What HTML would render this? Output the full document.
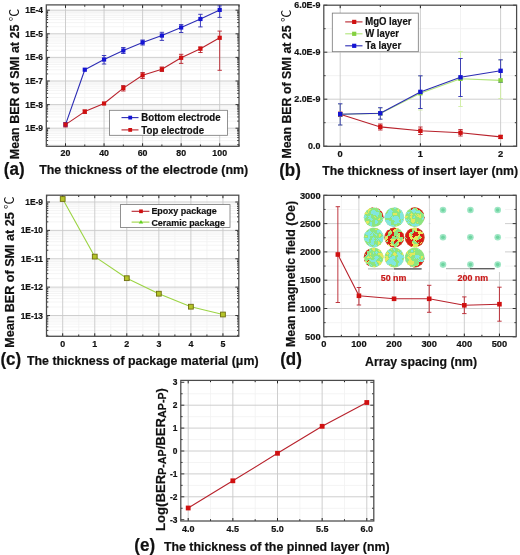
<!DOCTYPE html>
<html><head><meta charset="utf-8"><style>
html,body{margin:0;padding:0;background:#fff;width:520px;height:555px;overflow:hidden}
svg{display:block}
text{font-family:"Liberation Sans","Noto Sans CJK SC",sans-serif;font-weight:bold;stroke-width:0.2px}
</style></head><body>
<svg width="520" height="555" viewBox="0 0 520 555">
<rect width="520" height="555" fill="#fff"/>
<line x1="84.78" y1="4.9" x2="84.78" y2="146.3" stroke="#f1f1f1" stroke-width="0.8"/>
<line x1="123.33" y1="4.9" x2="123.33" y2="146.3" stroke="#f1f1f1" stroke-width="0.8"/>
<line x1="161.88" y1="4.9" x2="161.88" y2="146.3" stroke="#f1f1f1" stroke-width="0.8"/>
<line x1="200.43" y1="4.9" x2="200.43" y2="146.3" stroke="#f1f1f1" stroke-width="0.8"/>
<line x1="238.97" y1="4.9" x2="238.97" y2="146.3" stroke="#f1f1f1" stroke-width="0.8"/>
<line x1="46.3" y1="144.7" x2="239" y2="144.7" stroke="#f1f1f1" stroke-width="0.8"/>
<line x1="46.3" y1="140.54" x2="239" y2="140.54" stroke="#f1f1f1" stroke-width="0.8"/>
<line x1="46.3" y1="137.59" x2="239" y2="137.59" stroke="#f1f1f1" stroke-width="0.8"/>
<line x1="46.3" y1="135.3" x2="239" y2="135.3" stroke="#f1f1f1" stroke-width="0.8"/>
<line x1="46.3" y1="133.44" x2="239" y2="133.44" stroke="#f1f1f1" stroke-width="0.8"/>
<line x1="46.3" y1="131.86" x2="239" y2="131.86" stroke="#f1f1f1" stroke-width="0.8"/>
<line x1="46.3" y1="130.49" x2="239" y2="130.49" stroke="#f1f1f1" stroke-width="0.8"/>
<line x1="46.3" y1="129.28" x2="239" y2="129.28" stroke="#f1f1f1" stroke-width="0.8"/>
<line x1="46.3" y1="121.1" x2="239" y2="121.1" stroke="#f1f1f1" stroke-width="0.8"/>
<line x1="46.3" y1="116.94" x2="239" y2="116.94" stroke="#f1f1f1" stroke-width="0.8"/>
<line x1="46.3" y1="113.99" x2="239" y2="113.99" stroke="#f1f1f1" stroke-width="0.8"/>
<line x1="46.3" y1="111.7" x2="239" y2="111.7" stroke="#f1f1f1" stroke-width="0.8"/>
<line x1="46.3" y1="109.84" x2="239" y2="109.84" stroke="#f1f1f1" stroke-width="0.8"/>
<line x1="46.3" y1="108.26" x2="239" y2="108.26" stroke="#f1f1f1" stroke-width="0.8"/>
<line x1="46.3" y1="106.89" x2="239" y2="106.89" stroke="#f1f1f1" stroke-width="0.8"/>
<line x1="46.3" y1="105.68" x2="239" y2="105.68" stroke="#f1f1f1" stroke-width="0.8"/>
<line x1="46.3" y1="97.5" x2="239" y2="97.5" stroke="#f1f1f1" stroke-width="0.8"/>
<line x1="46.3" y1="93.34" x2="239" y2="93.34" stroke="#f1f1f1" stroke-width="0.8"/>
<line x1="46.3" y1="90.39" x2="239" y2="90.39" stroke="#f1f1f1" stroke-width="0.8"/>
<line x1="46.3" y1="88.1" x2="239" y2="88.1" stroke="#f1f1f1" stroke-width="0.8"/>
<line x1="46.3" y1="86.24" x2="239" y2="86.24" stroke="#f1f1f1" stroke-width="0.8"/>
<line x1="46.3" y1="84.66" x2="239" y2="84.66" stroke="#f1f1f1" stroke-width="0.8"/>
<line x1="46.3" y1="83.29" x2="239" y2="83.29" stroke="#f1f1f1" stroke-width="0.8"/>
<line x1="46.3" y1="82.08" x2="239" y2="82.08" stroke="#f1f1f1" stroke-width="0.8"/>
<line x1="46.3" y1="73.9" x2="239" y2="73.9" stroke="#f1f1f1" stroke-width="0.8"/>
<line x1="46.3" y1="69.74" x2="239" y2="69.74" stroke="#f1f1f1" stroke-width="0.8"/>
<line x1="46.3" y1="66.79" x2="239" y2="66.79" stroke="#f1f1f1" stroke-width="0.8"/>
<line x1="46.3" y1="64.5" x2="239" y2="64.5" stroke="#f1f1f1" stroke-width="0.8"/>
<line x1="46.3" y1="62.64" x2="239" y2="62.64" stroke="#f1f1f1" stroke-width="0.8"/>
<line x1="46.3" y1="61.06" x2="239" y2="61.06" stroke="#f1f1f1" stroke-width="0.8"/>
<line x1="46.3" y1="59.69" x2="239" y2="59.69" stroke="#f1f1f1" stroke-width="0.8"/>
<line x1="46.3" y1="58.48" x2="239" y2="58.48" stroke="#f1f1f1" stroke-width="0.8"/>
<line x1="46.3" y1="50.3" x2="239" y2="50.3" stroke="#f1f1f1" stroke-width="0.8"/>
<line x1="46.3" y1="46.14" x2="239" y2="46.14" stroke="#f1f1f1" stroke-width="0.8"/>
<line x1="46.3" y1="43.19" x2="239" y2="43.19" stroke="#f1f1f1" stroke-width="0.8"/>
<line x1="46.3" y1="40.9" x2="239" y2="40.9" stroke="#f1f1f1" stroke-width="0.8"/>
<line x1="46.3" y1="39.04" x2="239" y2="39.04" stroke="#f1f1f1" stroke-width="0.8"/>
<line x1="46.3" y1="37.46" x2="239" y2="37.46" stroke="#f1f1f1" stroke-width="0.8"/>
<line x1="46.3" y1="36.09" x2="239" y2="36.09" stroke="#f1f1f1" stroke-width="0.8"/>
<line x1="46.3" y1="34.88" x2="239" y2="34.88" stroke="#f1f1f1" stroke-width="0.8"/>
<line x1="46.3" y1="26.7" x2="239" y2="26.7" stroke="#f1f1f1" stroke-width="0.8"/>
<line x1="46.3" y1="22.54" x2="239" y2="22.54" stroke="#f1f1f1" stroke-width="0.8"/>
<line x1="46.3" y1="19.59" x2="239" y2="19.59" stroke="#f1f1f1" stroke-width="0.8"/>
<line x1="46.3" y1="17.3" x2="239" y2="17.3" stroke="#f1f1f1" stroke-width="0.8"/>
<line x1="46.3" y1="15.44" x2="239" y2="15.44" stroke="#f1f1f1" stroke-width="0.8"/>
<line x1="46.3" y1="13.86" x2="239" y2="13.86" stroke="#f1f1f1" stroke-width="0.8"/>
<line x1="46.3" y1="12.49" x2="239" y2="12.49" stroke="#f1f1f1" stroke-width="0.8"/>
<line x1="46.3" y1="11.28" x2="239" y2="11.28" stroke="#f1f1f1" stroke-width="0.8"/>
<line x1="65.5" y1="4.9" x2="65.5" y2="146.3" stroke="#c8c8c8" stroke-width="0.9"/>
<line x1="104.05" y1="4.9" x2="104.05" y2="146.3" stroke="#c8c8c8" stroke-width="0.9"/>
<line x1="142.6" y1="4.9" x2="142.6" y2="146.3" stroke="#c8c8c8" stroke-width="0.9"/>
<line x1="181.15" y1="4.9" x2="181.15" y2="146.3" stroke="#c8c8c8" stroke-width="0.9"/>
<line x1="219.7" y1="4.9" x2="219.7" y2="146.3" stroke="#c8c8c8" stroke-width="0.9"/>
<line x1="46.3" y1="128.2" x2="239" y2="128.2" stroke="#c8c8c8" stroke-width="0.9"/>
<line x1="46.3" y1="104.6" x2="239" y2="104.6" stroke="#c8c8c8" stroke-width="0.9"/>
<line x1="46.3" y1="81" x2="239" y2="81" stroke="#c8c8c8" stroke-width="0.9"/>
<line x1="46.3" y1="57.4" x2="239" y2="57.4" stroke="#c8c8c8" stroke-width="0.9"/>
<line x1="46.3" y1="33.8" x2="239" y2="33.8" stroke="#c8c8c8" stroke-width="0.9"/>
<line x1="46.3" y1="10.2" x2="239" y2="10.2" stroke="#c8c8c8" stroke-width="0.9"/>
<line x1="65.5" y1="146.3" x2="65.5" y2="143.3" stroke="#222" stroke-width="1"/>
<line x1="65.5" y1="4.9" x2="65.5" y2="7.9" stroke="#222" stroke-width="1"/>
<line x1="84.78" y1="146.3" x2="84.78" y2="144.5" stroke="#222" stroke-width="1"/>
<line x1="84.78" y1="4.9" x2="84.78" y2="6.7" stroke="#222" stroke-width="1"/>
<line x1="104.05" y1="146.3" x2="104.05" y2="143.3" stroke="#222" stroke-width="1"/>
<line x1="104.05" y1="4.9" x2="104.05" y2="7.9" stroke="#222" stroke-width="1"/>
<line x1="123.33" y1="146.3" x2="123.33" y2="144.5" stroke="#222" stroke-width="1"/>
<line x1="123.33" y1="4.9" x2="123.33" y2="6.7" stroke="#222" stroke-width="1"/>
<line x1="142.6" y1="146.3" x2="142.6" y2="143.3" stroke="#222" stroke-width="1"/>
<line x1="142.6" y1="4.9" x2="142.6" y2="7.9" stroke="#222" stroke-width="1"/>
<line x1="161.88" y1="146.3" x2="161.88" y2="144.5" stroke="#222" stroke-width="1"/>
<line x1="161.88" y1="4.9" x2="161.88" y2="6.7" stroke="#222" stroke-width="1"/>
<line x1="181.15" y1="146.3" x2="181.15" y2="143.3" stroke="#222" stroke-width="1"/>
<line x1="181.15" y1="4.9" x2="181.15" y2="7.9" stroke="#222" stroke-width="1"/>
<line x1="200.43" y1="146.3" x2="200.43" y2="144.5" stroke="#222" stroke-width="1"/>
<line x1="200.43" y1="4.9" x2="200.43" y2="6.7" stroke="#222" stroke-width="1"/>
<line x1="219.7" y1="146.3" x2="219.7" y2="143.3" stroke="#222" stroke-width="1"/>
<line x1="219.7" y1="4.9" x2="219.7" y2="7.9" stroke="#222" stroke-width="1"/>
<line x1="238.97" y1="146.3" x2="238.97" y2="144.5" stroke="#222" stroke-width="1"/>
<line x1="238.97" y1="4.9" x2="238.97" y2="6.7" stroke="#222" stroke-width="1"/>
<line x1="46.3" y1="144.7" x2="48.1" y2="144.7" stroke="#222" stroke-width="0.9"/>
<line x1="239" y1="144.7" x2="237.2" y2="144.7" stroke="#222" stroke-width="0.9"/>
<line x1="46.3" y1="140.54" x2="48.1" y2="140.54" stroke="#222" stroke-width="0.9"/>
<line x1="239" y1="140.54" x2="237.2" y2="140.54" stroke="#222" stroke-width="0.9"/>
<line x1="46.3" y1="137.59" x2="48.1" y2="137.59" stroke="#222" stroke-width="0.9"/>
<line x1="239" y1="137.59" x2="237.2" y2="137.59" stroke="#222" stroke-width="0.9"/>
<line x1="46.3" y1="135.3" x2="48.1" y2="135.3" stroke="#222" stroke-width="0.9"/>
<line x1="239" y1="135.3" x2="237.2" y2="135.3" stroke="#222" stroke-width="0.9"/>
<line x1="46.3" y1="133.44" x2="48.1" y2="133.44" stroke="#222" stroke-width="0.9"/>
<line x1="239" y1="133.44" x2="237.2" y2="133.44" stroke="#222" stroke-width="0.9"/>
<line x1="46.3" y1="131.86" x2="48.1" y2="131.86" stroke="#222" stroke-width="0.9"/>
<line x1="239" y1="131.86" x2="237.2" y2="131.86" stroke="#222" stroke-width="0.9"/>
<line x1="46.3" y1="130.49" x2="48.1" y2="130.49" stroke="#222" stroke-width="0.9"/>
<line x1="239" y1="130.49" x2="237.2" y2="130.49" stroke="#222" stroke-width="0.9"/>
<line x1="46.3" y1="129.28" x2="48.1" y2="129.28" stroke="#222" stroke-width="0.9"/>
<line x1="239" y1="129.28" x2="237.2" y2="129.28" stroke="#222" stroke-width="0.9"/>
<line x1="46.3" y1="128.2" x2="49.8" y2="128.2" stroke="#222" stroke-width="0.9"/>
<line x1="239" y1="128.2" x2="235.5" y2="128.2" stroke="#222" stroke-width="0.9"/>
<line x1="46.3" y1="121.1" x2="48.1" y2="121.1" stroke="#222" stroke-width="0.9"/>
<line x1="239" y1="121.1" x2="237.2" y2="121.1" stroke="#222" stroke-width="0.9"/>
<line x1="46.3" y1="116.94" x2="48.1" y2="116.94" stroke="#222" stroke-width="0.9"/>
<line x1="239" y1="116.94" x2="237.2" y2="116.94" stroke="#222" stroke-width="0.9"/>
<line x1="46.3" y1="113.99" x2="48.1" y2="113.99" stroke="#222" stroke-width="0.9"/>
<line x1="239" y1="113.99" x2="237.2" y2="113.99" stroke="#222" stroke-width="0.9"/>
<line x1="46.3" y1="111.7" x2="48.1" y2="111.7" stroke="#222" stroke-width="0.9"/>
<line x1="239" y1="111.7" x2="237.2" y2="111.7" stroke="#222" stroke-width="0.9"/>
<line x1="46.3" y1="109.84" x2="48.1" y2="109.84" stroke="#222" stroke-width="0.9"/>
<line x1="239" y1="109.84" x2="237.2" y2="109.84" stroke="#222" stroke-width="0.9"/>
<line x1="46.3" y1="108.26" x2="48.1" y2="108.26" stroke="#222" stroke-width="0.9"/>
<line x1="239" y1="108.26" x2="237.2" y2="108.26" stroke="#222" stroke-width="0.9"/>
<line x1="46.3" y1="106.89" x2="48.1" y2="106.89" stroke="#222" stroke-width="0.9"/>
<line x1="239" y1="106.89" x2="237.2" y2="106.89" stroke="#222" stroke-width="0.9"/>
<line x1="46.3" y1="105.68" x2="48.1" y2="105.68" stroke="#222" stroke-width="0.9"/>
<line x1="239" y1="105.68" x2="237.2" y2="105.68" stroke="#222" stroke-width="0.9"/>
<line x1="46.3" y1="104.6" x2="49.8" y2="104.6" stroke="#222" stroke-width="0.9"/>
<line x1="239" y1="104.6" x2="235.5" y2="104.6" stroke="#222" stroke-width="0.9"/>
<line x1="46.3" y1="97.5" x2="48.1" y2="97.5" stroke="#222" stroke-width="0.9"/>
<line x1="239" y1="97.5" x2="237.2" y2="97.5" stroke="#222" stroke-width="0.9"/>
<line x1="46.3" y1="93.34" x2="48.1" y2="93.34" stroke="#222" stroke-width="0.9"/>
<line x1="239" y1="93.34" x2="237.2" y2="93.34" stroke="#222" stroke-width="0.9"/>
<line x1="46.3" y1="90.39" x2="48.1" y2="90.39" stroke="#222" stroke-width="0.9"/>
<line x1="239" y1="90.39" x2="237.2" y2="90.39" stroke="#222" stroke-width="0.9"/>
<line x1="46.3" y1="88.1" x2="48.1" y2="88.1" stroke="#222" stroke-width="0.9"/>
<line x1="239" y1="88.1" x2="237.2" y2="88.1" stroke="#222" stroke-width="0.9"/>
<line x1="46.3" y1="86.24" x2="48.1" y2="86.24" stroke="#222" stroke-width="0.9"/>
<line x1="239" y1="86.24" x2="237.2" y2="86.24" stroke="#222" stroke-width="0.9"/>
<line x1="46.3" y1="84.66" x2="48.1" y2="84.66" stroke="#222" stroke-width="0.9"/>
<line x1="239" y1="84.66" x2="237.2" y2="84.66" stroke="#222" stroke-width="0.9"/>
<line x1="46.3" y1="83.29" x2="48.1" y2="83.29" stroke="#222" stroke-width="0.9"/>
<line x1="239" y1="83.29" x2="237.2" y2="83.29" stroke="#222" stroke-width="0.9"/>
<line x1="46.3" y1="82.08" x2="48.1" y2="82.08" stroke="#222" stroke-width="0.9"/>
<line x1="239" y1="82.08" x2="237.2" y2="82.08" stroke="#222" stroke-width="0.9"/>
<line x1="46.3" y1="81" x2="49.8" y2="81" stroke="#222" stroke-width="0.9"/>
<line x1="239" y1="81" x2="235.5" y2="81" stroke="#222" stroke-width="0.9"/>
<line x1="46.3" y1="73.9" x2="48.1" y2="73.9" stroke="#222" stroke-width="0.9"/>
<line x1="239" y1="73.9" x2="237.2" y2="73.9" stroke="#222" stroke-width="0.9"/>
<line x1="46.3" y1="69.74" x2="48.1" y2="69.74" stroke="#222" stroke-width="0.9"/>
<line x1="239" y1="69.74" x2="237.2" y2="69.74" stroke="#222" stroke-width="0.9"/>
<line x1="46.3" y1="66.79" x2="48.1" y2="66.79" stroke="#222" stroke-width="0.9"/>
<line x1="239" y1="66.79" x2="237.2" y2="66.79" stroke="#222" stroke-width="0.9"/>
<line x1="46.3" y1="64.5" x2="48.1" y2="64.5" stroke="#222" stroke-width="0.9"/>
<line x1="239" y1="64.5" x2="237.2" y2="64.5" stroke="#222" stroke-width="0.9"/>
<line x1="46.3" y1="62.64" x2="48.1" y2="62.64" stroke="#222" stroke-width="0.9"/>
<line x1="239" y1="62.64" x2="237.2" y2="62.64" stroke="#222" stroke-width="0.9"/>
<line x1="46.3" y1="61.06" x2="48.1" y2="61.06" stroke="#222" stroke-width="0.9"/>
<line x1="239" y1="61.06" x2="237.2" y2="61.06" stroke="#222" stroke-width="0.9"/>
<line x1="46.3" y1="59.69" x2="48.1" y2="59.69" stroke="#222" stroke-width="0.9"/>
<line x1="239" y1="59.69" x2="237.2" y2="59.69" stroke="#222" stroke-width="0.9"/>
<line x1="46.3" y1="58.48" x2="48.1" y2="58.48" stroke="#222" stroke-width="0.9"/>
<line x1="239" y1="58.48" x2="237.2" y2="58.48" stroke="#222" stroke-width="0.9"/>
<line x1="46.3" y1="57.4" x2="49.8" y2="57.4" stroke="#222" stroke-width="0.9"/>
<line x1="239" y1="57.4" x2="235.5" y2="57.4" stroke="#222" stroke-width="0.9"/>
<line x1="46.3" y1="50.3" x2="48.1" y2="50.3" stroke="#222" stroke-width="0.9"/>
<line x1="239" y1="50.3" x2="237.2" y2="50.3" stroke="#222" stroke-width="0.9"/>
<line x1="46.3" y1="46.14" x2="48.1" y2="46.14" stroke="#222" stroke-width="0.9"/>
<line x1="239" y1="46.14" x2="237.2" y2="46.14" stroke="#222" stroke-width="0.9"/>
<line x1="46.3" y1="43.19" x2="48.1" y2="43.19" stroke="#222" stroke-width="0.9"/>
<line x1="239" y1="43.19" x2="237.2" y2="43.19" stroke="#222" stroke-width="0.9"/>
<line x1="46.3" y1="40.9" x2="48.1" y2="40.9" stroke="#222" stroke-width="0.9"/>
<line x1="239" y1="40.9" x2="237.2" y2="40.9" stroke="#222" stroke-width="0.9"/>
<line x1="46.3" y1="39.04" x2="48.1" y2="39.04" stroke="#222" stroke-width="0.9"/>
<line x1="239" y1="39.04" x2="237.2" y2="39.04" stroke="#222" stroke-width="0.9"/>
<line x1="46.3" y1="37.46" x2="48.1" y2="37.46" stroke="#222" stroke-width="0.9"/>
<line x1="239" y1="37.46" x2="237.2" y2="37.46" stroke="#222" stroke-width="0.9"/>
<line x1="46.3" y1="36.09" x2="48.1" y2="36.09" stroke="#222" stroke-width="0.9"/>
<line x1="239" y1="36.09" x2="237.2" y2="36.09" stroke="#222" stroke-width="0.9"/>
<line x1="46.3" y1="34.88" x2="48.1" y2="34.88" stroke="#222" stroke-width="0.9"/>
<line x1="239" y1="34.88" x2="237.2" y2="34.88" stroke="#222" stroke-width="0.9"/>
<line x1="46.3" y1="33.8" x2="49.8" y2="33.8" stroke="#222" stroke-width="0.9"/>
<line x1="239" y1="33.8" x2="235.5" y2="33.8" stroke="#222" stroke-width="0.9"/>
<line x1="46.3" y1="26.7" x2="48.1" y2="26.7" stroke="#222" stroke-width="0.9"/>
<line x1="239" y1="26.7" x2="237.2" y2="26.7" stroke="#222" stroke-width="0.9"/>
<line x1="46.3" y1="22.54" x2="48.1" y2="22.54" stroke="#222" stroke-width="0.9"/>
<line x1="239" y1="22.54" x2="237.2" y2="22.54" stroke="#222" stroke-width="0.9"/>
<line x1="46.3" y1="19.59" x2="48.1" y2="19.59" stroke="#222" stroke-width="0.9"/>
<line x1="239" y1="19.59" x2="237.2" y2="19.59" stroke="#222" stroke-width="0.9"/>
<line x1="46.3" y1="17.3" x2="48.1" y2="17.3" stroke="#222" stroke-width="0.9"/>
<line x1="239" y1="17.3" x2="237.2" y2="17.3" stroke="#222" stroke-width="0.9"/>
<line x1="46.3" y1="15.44" x2="48.1" y2="15.44" stroke="#222" stroke-width="0.9"/>
<line x1="239" y1="15.44" x2="237.2" y2="15.44" stroke="#222" stroke-width="0.9"/>
<line x1="46.3" y1="13.86" x2="48.1" y2="13.86" stroke="#222" stroke-width="0.9"/>
<line x1="239" y1="13.86" x2="237.2" y2="13.86" stroke="#222" stroke-width="0.9"/>
<line x1="46.3" y1="12.49" x2="48.1" y2="12.49" stroke="#222" stroke-width="0.9"/>
<line x1="239" y1="12.49" x2="237.2" y2="12.49" stroke="#222" stroke-width="0.9"/>
<line x1="46.3" y1="11.28" x2="48.1" y2="11.28" stroke="#222" stroke-width="0.9"/>
<line x1="239" y1="11.28" x2="237.2" y2="11.28" stroke="#222" stroke-width="0.9"/>
<line x1="46.3" y1="10.2" x2="49.8" y2="10.2" stroke="#222" stroke-width="0.9"/>
<line x1="239" y1="10.2" x2="235.5" y2="10.2" stroke="#222" stroke-width="0.9"/>
<rect x="46.3" y="4.9" width="192.7" height="141.4" fill="none" stroke="#4a4a4a" stroke-width="1.25"/>
<text x="43" y="131.2" font-size="8.4" text-anchor="end" fill="#111" stroke="#111">1E-9</text>
<text x="43" y="107.6" font-size="8.4" text-anchor="end" fill="#111" stroke="#111">1E-8</text>
<text x="43" y="84" font-size="8.4" text-anchor="end" fill="#111" stroke="#111">1E-7</text>
<text x="43" y="60.4" font-size="8.4" text-anchor="end" fill="#111" stroke="#111">1E-6</text>
<text x="43" y="36.8" font-size="8.4" text-anchor="end" fill="#111" stroke="#111">1E-5</text>
<text x="43" y="13.2" font-size="8.4" text-anchor="end" fill="#111" stroke="#111">1E-4</text>
<text x="65.5" y="156.2" font-size="8.8" text-anchor="middle" fill="#111" stroke="#111">20</text>
<text x="104.05" y="156.2" font-size="8.8" text-anchor="middle" fill="#111" stroke="#111">40</text>
<text x="142.6" y="156.2" font-size="8.8" text-anchor="middle" fill="#111" stroke="#111">60</text>
<text x="181.15" y="156.2" font-size="8.8" text-anchor="middle" fill="#111" stroke="#111">80</text>
<text x="219.7" y="156.2" font-size="8.8" text-anchor="middle" fill="#111" stroke="#111">100</text>
<text x="0" y="0" font-size="17" fill="#111" stroke="#111" transform="translate(3.8 175.2) scale(1 1.13)">(a)</text>
<text x="39.2" y="173.8" font-size="12.3" fill="#111" stroke="#111" text-anchor="start" textLength="209" lengthAdjust="spacingAndGlyphs">The thickness of the electrode (nm)</text>
<text x="19" y="159.2" font-size="12.3" fill="#111" stroke="#111" text-anchor="start" textLength="150.5" lengthAdjust="spacingAndGlyphs" transform="rotate(-90 19 159.2)">Mean BER of SMI at 25 <tspan font-weight="normal" stroke-width="0">℃</tspan></text>
<line x1="123.33" y1="85.5" x2="123.33" y2="91" stroke="#b8222c" stroke-width="0.9"/>
<line x1="121.12" y1="85.5" x2="125.53" y2="85.5" stroke="#b8222c" stroke-width="0.9"/>
<line x1="121.12" y1="91" x2="125.53" y2="91" stroke="#b8222c" stroke-width="0.9"/>
<line x1="142.6" y1="72.5" x2="142.6" y2="78.5" stroke="#b8222c" stroke-width="0.9"/>
<line x1="140.4" y1="72.5" x2="144.8" y2="72.5" stroke="#b8222c" stroke-width="0.9"/>
<line x1="140.4" y1="78.5" x2="144.8" y2="78.5" stroke="#b8222c" stroke-width="0.9"/>
<line x1="161.88" y1="67" x2="161.88" y2="71.5" stroke="#b8222c" stroke-width="0.9"/>
<line x1="159.68" y1="67" x2="164.07" y2="67" stroke="#b8222c" stroke-width="0.9"/>
<line x1="159.68" y1="71.5" x2="164.07" y2="71.5" stroke="#b8222c" stroke-width="0.9"/>
<line x1="181.15" y1="54.3" x2="181.15" y2="63.4" stroke="#b8222c" stroke-width="0.9"/>
<line x1="178.95" y1="54.3" x2="183.35" y2="54.3" stroke="#b8222c" stroke-width="0.9"/>
<line x1="178.95" y1="63.4" x2="183.35" y2="63.4" stroke="#b8222c" stroke-width="0.9"/>
<line x1="200.43" y1="47" x2="200.43" y2="52.5" stroke="#b8222c" stroke-width="0.9"/>
<line x1="198.23" y1="47" x2="202.62" y2="47" stroke="#b8222c" stroke-width="0.9"/>
<line x1="198.23" y1="52.5" x2="202.62" y2="52.5" stroke="#b8222c" stroke-width="0.9"/>
<line x1="219.7" y1="31.1" x2="219.7" y2="70.3" stroke="#b8222c" stroke-width="0.9"/>
<line x1="217.5" y1="31.1" x2="221.9" y2="31.1" stroke="#b8222c" stroke-width="0.9"/>
<line x1="217.5" y1="70.3" x2="221.9" y2="70.3" stroke="#b8222c" stroke-width="0.9"/>
<line x1="84.78" y1="110" x2="84.78" y2="113.5" stroke="#b8222c" stroke-width="0.9"/>
<line x1="82.58" y1="110" x2="86.98" y2="110" stroke="#b8222c" stroke-width="0.9"/>
<line x1="82.58" y1="113.5" x2="86.98" y2="113.5" stroke="#b8222c" stroke-width="0.9"/>
<line x1="65.5" y1="122.5" x2="65.5" y2="127" stroke="#b8222c" stroke-width="0.9"/>
<line x1="63.3" y1="122.5" x2="67.7" y2="122.5" stroke="#b8222c" stroke-width="0.9"/>
<line x1="63.3" y1="127" x2="67.7" y2="127" stroke="#b8222c" stroke-width="0.9"/>
<line x1="104.05" y1="55.5" x2="104.05" y2="64" stroke="#2c2cb4" stroke-width="0.9"/>
<line x1="101.85" y1="55.5" x2="106.25" y2="55.5" stroke="#2c2cb4" stroke-width="0.9"/>
<line x1="101.85" y1="64" x2="106.25" y2="64" stroke="#2c2cb4" stroke-width="0.9"/>
<line x1="123.33" y1="47.5" x2="123.33" y2="53.5" stroke="#2c2cb4" stroke-width="0.9"/>
<line x1="121.12" y1="47.5" x2="125.53" y2="47.5" stroke="#2c2cb4" stroke-width="0.9"/>
<line x1="121.12" y1="53.5" x2="125.53" y2="53.5" stroke="#2c2cb4" stroke-width="0.9"/>
<line x1="142.6" y1="40" x2="142.6" y2="45" stroke="#2c2cb4" stroke-width="0.9"/>
<line x1="140.4" y1="40" x2="144.8" y2="40" stroke="#2c2cb4" stroke-width="0.9"/>
<line x1="140.4" y1="45" x2="144.8" y2="45" stroke="#2c2cb4" stroke-width="0.9"/>
<line x1="161.88" y1="32.3" x2="161.88" y2="40.4" stroke="#2c2cb4" stroke-width="0.9"/>
<line x1="159.68" y1="32.3" x2="164.07" y2="32.3" stroke="#2c2cb4" stroke-width="0.9"/>
<line x1="159.68" y1="40.4" x2="164.07" y2="40.4" stroke="#2c2cb4" stroke-width="0.9"/>
<line x1="181.15" y1="24.6" x2="181.15" y2="32.5" stroke="#2c2cb4" stroke-width="0.9"/>
<line x1="178.95" y1="24.6" x2="183.35" y2="24.6" stroke="#2c2cb4" stroke-width="0.9"/>
<line x1="178.95" y1="32.5" x2="183.35" y2="32.5" stroke="#2c2cb4" stroke-width="0.9"/>
<line x1="200.43" y1="14.3" x2="200.43" y2="26.9" stroke="#2c2cb4" stroke-width="0.9"/>
<line x1="198.23" y1="14.3" x2="202.62" y2="14.3" stroke="#2c2cb4" stroke-width="0.9"/>
<line x1="198.23" y1="26.9" x2="202.62" y2="26.9" stroke="#2c2cb4" stroke-width="0.9"/>
<line x1="219.7" y1="5.9" x2="219.7" y2="17.4" stroke="#2c2cb4" stroke-width="0.9"/>
<line x1="217.5" y1="5.9" x2="221.9" y2="5.9" stroke="#2c2cb4" stroke-width="0.9"/>
<line x1="217.5" y1="17.4" x2="221.9" y2="17.4" stroke="#2c2cb4" stroke-width="0.9"/>
<polyline points="65.5,124.6 84.78,111.6 104.05,103.5 123.33,88.1 142.6,75.3 161.88,69.3 181.15,57.8 200.43,48.7 219.7,37.8" fill="none" stroke="#b8222c" stroke-width="1.1" stroke-linejoin="round"/>
<polyline points="65.5,124.6 84.78,69.7 104.05,59.5 123.33,50.5 142.6,42.4 161.88,35.6 181.15,27.5 200.43,19 219.7,9.9" fill="none" stroke="#2c2cb4" stroke-width="1.1" stroke-linejoin="round"/>
<rect x="63.4" y="122.5" width="4.2" height="4.2" fill="#1414d4" stroke="none" stroke-width="1"/>
<rect x="82.68" y="67.6" width="4.2" height="4.2" fill="#1414d4" stroke="none" stroke-width="1"/>
<rect x="101.95" y="57.4" width="4.2" height="4.2" fill="#1414d4" stroke="none" stroke-width="1"/>
<rect x="121.23" y="48.4" width="4.2" height="4.2" fill="#1414d4" stroke="none" stroke-width="1"/>
<rect x="140.5" y="40.3" width="4.2" height="4.2" fill="#1414d4" stroke="none" stroke-width="1"/>
<rect x="159.78" y="33.5" width="4.2" height="4.2" fill="#1414d4" stroke="none" stroke-width="1"/>
<rect x="179.05" y="25.4" width="4.2" height="4.2" fill="#1414d4" stroke="none" stroke-width="1"/>
<rect x="198.33" y="16.9" width="4.2" height="4.2" fill="#1414d4" stroke="none" stroke-width="1"/>
<rect x="217.6" y="7.8" width="4.2" height="4.2" fill="#1414d4" stroke="none" stroke-width="1"/>
<rect x="63.4" y="122.5" width="4.2" height="4.2" fill="#d01010" stroke="none" stroke-width="1"/>
<rect x="82.68" y="109.5" width="4.2" height="4.2" fill="#d01010" stroke="none" stroke-width="1"/>
<rect x="101.95" y="101.4" width="4.2" height="4.2" fill="#d01010" stroke="none" stroke-width="1"/>
<rect x="121.23" y="86" width="4.2" height="4.2" fill="#d01010" stroke="none" stroke-width="1"/>
<rect x="140.5" y="73.2" width="4.2" height="4.2" fill="#d01010" stroke="none" stroke-width="1"/>
<rect x="159.78" y="67.2" width="4.2" height="4.2" fill="#d01010" stroke="none" stroke-width="1"/>
<rect x="179.05" y="55.7" width="4.2" height="4.2" fill="#d01010" stroke="none" stroke-width="1"/>
<rect x="198.33" y="46.6" width="4.2" height="4.2" fill="#d01010" stroke="none" stroke-width="1"/>
<rect x="217.6" y="35.7" width="4.2" height="4.2" fill="#d01010" stroke="none" stroke-width="1"/>
<rect x="109.5" y="110.3" width="118" height="25" fill="#fff" stroke="#777" stroke-width="0.8"/>
<line x1="121.5" y1="117.6" x2="138.5" y2="117.6" stroke="#2c2cb4" stroke-width="1.1"/>
<rect x="128.3" y="115.7" width="3.8" height="3.8" fill="#1414d4" stroke="none" stroke-width="1"/>
<line x1="121.5" y1="129.9" x2="138.5" y2="129.9" stroke="#b8222c" stroke-width="1.1"/>
<rect x="128.3" y="128" width="3.8" height="3.8" fill="#d01010" stroke="none" stroke-width="1"/>
<text x="141.3" y="121.2" font-size="10.4" fill="#111" stroke="#111" text-anchor="start" textLength="79.3" lengthAdjust="spacingAndGlyphs">Bottom electrode</text>
<text x="141.3" y="133.5" font-size="10.4" fill="#111" stroke="#111" text-anchor="start" textLength="62.8" lengthAdjust="spacingAndGlyphs">Top electrode</text>
<line x1="380.3" y1="5.2" x2="380.3" y2="146.3" stroke="#f1f1f1" stroke-width="0.9"/>
<line x1="460.5" y1="5.2" x2="460.5" y2="146.3" stroke="#f1f1f1" stroke-width="0.9"/>
<line x1="323.8" y1="122.7" x2="516.6" y2="122.7" stroke="#f1f1f1" stroke-width="0.9"/>
<line x1="323.8" y1="75.7" x2="516.6" y2="75.7" stroke="#f1f1f1" stroke-width="0.9"/>
<line x1="323.8" y1="28.7" x2="516.6" y2="28.7" stroke="#f1f1f1" stroke-width="0.9"/>
<line x1="340.2" y1="5.2" x2="340.2" y2="146.3" stroke="#c8c8c8" stroke-width="0.9"/>
<line x1="420.4" y1="5.2" x2="420.4" y2="146.3" stroke="#c8c8c8" stroke-width="0.9"/>
<line x1="500.6" y1="5.2" x2="500.6" y2="146.3" stroke="#c8c8c8" stroke-width="0.9"/>
<line x1="323.8" y1="99.2" x2="516.6" y2="99.2" stroke="#c8c8c8" stroke-width="0.9"/>
<line x1="323.8" y1="52.2" x2="516.6" y2="52.2" stroke="#c8c8c8" stroke-width="0.9"/>
<line x1="340.2" y1="146.3" x2="340.2" y2="143.3" stroke="#222" stroke-width="1"/>
<line x1="340.2" y1="5.2" x2="340.2" y2="8.2" stroke="#222" stroke-width="1"/>
<line x1="380.3" y1="146.3" x2="380.3" y2="144.5" stroke="#222" stroke-width="1"/>
<line x1="380.3" y1="5.2" x2="380.3" y2="7" stroke="#222" stroke-width="1"/>
<line x1="420.4" y1="146.3" x2="420.4" y2="143.3" stroke="#222" stroke-width="1"/>
<line x1="420.4" y1="5.2" x2="420.4" y2="8.2" stroke="#222" stroke-width="1"/>
<line x1="460.5" y1="146.3" x2="460.5" y2="144.5" stroke="#222" stroke-width="1"/>
<line x1="460.5" y1="5.2" x2="460.5" y2="7" stroke="#222" stroke-width="1"/>
<line x1="500.6" y1="146.3" x2="500.6" y2="143.3" stroke="#222" stroke-width="1"/>
<line x1="500.6" y1="5.2" x2="500.6" y2="8.2" stroke="#222" stroke-width="1"/>
<line x1="323.8" y1="146.2" x2="327.3" y2="146.2" stroke="#222" stroke-width="0.9"/>
<line x1="516.6" y1="146.2" x2="513.1" y2="146.2" stroke="#222" stroke-width="0.9"/>
<line x1="323.8" y1="122.7" x2="325.6" y2="122.7" stroke="#222" stroke-width="0.9"/>
<line x1="516.6" y1="122.7" x2="514.8" y2="122.7" stroke="#222" stroke-width="0.9"/>
<line x1="323.8" y1="99.2" x2="327.3" y2="99.2" stroke="#222" stroke-width="0.9"/>
<line x1="516.6" y1="99.2" x2="513.1" y2="99.2" stroke="#222" stroke-width="0.9"/>
<line x1="323.8" y1="75.7" x2="325.6" y2="75.7" stroke="#222" stroke-width="0.9"/>
<line x1="516.6" y1="75.7" x2="514.8" y2="75.7" stroke="#222" stroke-width="0.9"/>
<line x1="323.8" y1="52.2" x2="327.3" y2="52.2" stroke="#222" stroke-width="0.9"/>
<line x1="516.6" y1="52.2" x2="513.1" y2="52.2" stroke="#222" stroke-width="0.9"/>
<line x1="323.8" y1="28.7" x2="325.6" y2="28.7" stroke="#222" stroke-width="0.9"/>
<line x1="516.6" y1="28.7" x2="514.8" y2="28.7" stroke="#222" stroke-width="0.9"/>
<line x1="323.8" y1="5.2" x2="327.3" y2="5.2" stroke="#222" stroke-width="0.9"/>
<line x1="516.6" y1="5.2" x2="513.1" y2="5.2" stroke="#222" stroke-width="0.9"/>
<rect x="323.8" y="5.2" width="192.8" height="141.1" fill="none" stroke="#4a4a4a" stroke-width="1.25"/>
<text x="320.4" y="149.3" font-size="8.9" text-anchor="end" fill="#111" stroke="#111">0.0</text>
<text x="320.4" y="102.3" font-size="8.9" text-anchor="end" fill="#111" stroke="#111">2.0E-9</text>
<text x="320.4" y="55.3" font-size="8.9" text-anchor="end" fill="#111" stroke="#111">4.0E-9</text>
<text x="320.4" y="8.3" font-size="8.9" text-anchor="end" fill="#111" stroke="#111">6.0E-9</text>
<text x="340.2" y="156.7" font-size="9.3" text-anchor="middle" fill="#111" stroke="#111">0</text>
<text x="420.4" y="156.7" font-size="9.3" text-anchor="middle" fill="#111" stroke="#111">1</text>
<text x="500.6" y="156.7" font-size="9.3" text-anchor="middle" fill="#111" stroke="#111">2</text>
<text x="0" y="0" font-size="17" fill="#111" stroke="#111" transform="translate(279.2 176) scale(1 1.13)">(b)</text>
<text x="322.3" y="174.8" font-size="12.3" fill="#111" stroke="#111" text-anchor="start" textLength="195.8" lengthAdjust="spacingAndGlyphs">The thickness of insert layer (nm)</text>
<text x="291" y="158.6" font-size="12.3" fill="#111" stroke="#111" text-anchor="start" textLength="149" lengthAdjust="spacingAndGlyphs" transform="rotate(-90 291 158.6)">Mean BER of SMI at 25 <tspan font-weight="normal" stroke-width="0">℃</tspan></text>
<line x1="340.2" y1="112" x2="340.2" y2="116.5" stroke="#b8222c" stroke-width="0.9"/>
<line x1="338" y1="112" x2="342.4" y2="112" stroke="#b8222c" stroke-width="0.9"/>
<line x1="338" y1="116.5" x2="342.4" y2="116.5" stroke="#b8222c" stroke-width="0.9"/>
<line x1="380.3" y1="124" x2="380.3" y2="130" stroke="#b8222c" stroke-width="0.9"/>
<line x1="378.1" y1="124" x2="382.5" y2="124" stroke="#b8222c" stroke-width="0.9"/>
<line x1="378.1" y1="130" x2="382.5" y2="130" stroke="#b8222c" stroke-width="0.9"/>
<line x1="420.4" y1="127" x2="420.4" y2="134.5" stroke="#b8222c" stroke-width="0.9"/>
<line x1="418.2" y1="127" x2="422.6" y2="127" stroke="#b8222c" stroke-width="0.9"/>
<line x1="418.2" y1="134.5" x2="422.6" y2="134.5" stroke="#b8222c" stroke-width="0.9"/>
<line x1="460.5" y1="129.5" x2="460.5" y2="136" stroke="#b8222c" stroke-width="0.9"/>
<line x1="458.3" y1="129.5" x2="462.7" y2="129.5" stroke="#b8222c" stroke-width="0.9"/>
<line x1="458.3" y1="136" x2="462.7" y2="136" stroke="#b8222c" stroke-width="0.9"/>
<line x1="500.6" y1="135.5" x2="500.6" y2="138.5" stroke="#b8222c" stroke-width="0.9"/>
<line x1="498.4" y1="135.5" x2="502.8" y2="135.5" stroke="#b8222c" stroke-width="0.9"/>
<line x1="498.4" y1="138.5" x2="502.8" y2="138.5" stroke="#b8222c" stroke-width="0.9"/>
<line x1="340.2" y1="104" x2="340.2" y2="125" stroke="#cfeea2" stroke-width="0.9"/>
<line x1="338" y1="104" x2="342.4" y2="104" stroke="#cfeea2" stroke-width="0.9"/>
<line x1="338" y1="125" x2="342.4" y2="125" stroke="#cfeea2" stroke-width="0.9"/>
<line x1="380.3" y1="108" x2="380.3" y2="119" stroke="#cfeea2" stroke-width="0.9"/>
<line x1="378.1" y1="108" x2="382.5" y2="108" stroke="#cfeea2" stroke-width="0.9"/>
<line x1="378.1" y1="119" x2="382.5" y2="119" stroke="#cfeea2" stroke-width="0.9"/>
<line x1="420.4" y1="76" x2="420.4" y2="110" stroke="#cfeea2" stroke-width="0.9"/>
<line x1="418.2" y1="76" x2="422.6" y2="76" stroke="#cfeea2" stroke-width="0.9"/>
<line x1="418.2" y1="110" x2="422.6" y2="110" stroke="#cfeea2" stroke-width="0.9"/>
<line x1="460.5" y1="51.5" x2="460.5" y2="106.5" stroke="#cfeea2" stroke-width="0.9"/>
<line x1="458.3" y1="51.5" x2="462.7" y2="51.5" stroke="#cfeea2" stroke-width="0.9"/>
<line x1="458.3" y1="106.5" x2="462.7" y2="106.5" stroke="#cfeea2" stroke-width="0.9"/>
<line x1="500.6" y1="60" x2="500.6" y2="98.5" stroke="#cfeea2" stroke-width="0.9"/>
<line x1="498.4" y1="60" x2="502.8" y2="60" stroke="#cfeea2" stroke-width="0.9"/>
<line x1="498.4" y1="98.5" x2="502.8" y2="98.5" stroke="#cfeea2" stroke-width="0.9"/>
<line x1="340.2" y1="103.8" x2="340.2" y2="125" stroke="#2c2cb4" stroke-width="0.9"/>
<line x1="338" y1="103.8" x2="342.4" y2="103.8" stroke="#2c2cb4" stroke-width="0.9"/>
<line x1="338" y1="125" x2="342.4" y2="125" stroke="#2c2cb4" stroke-width="0.9"/>
<line x1="380.3" y1="107.7" x2="380.3" y2="119.2" stroke="#2c2cb4" stroke-width="0.9"/>
<line x1="378.1" y1="107.7" x2="382.5" y2="107.7" stroke="#2c2cb4" stroke-width="0.9"/>
<line x1="378.1" y1="119.2" x2="382.5" y2="119.2" stroke="#2c2cb4" stroke-width="0.9"/>
<line x1="420.4" y1="75.8" x2="420.4" y2="108.5" stroke="#2c2cb4" stroke-width="0.9"/>
<line x1="418.2" y1="75.8" x2="422.6" y2="75.8" stroke="#2c2cb4" stroke-width="0.9"/>
<line x1="418.2" y1="108.5" x2="422.6" y2="108.5" stroke="#2c2cb4" stroke-width="0.9"/>
<line x1="460.5" y1="58.5" x2="460.5" y2="96.5" stroke="#2c2cb4" stroke-width="0.9"/>
<line x1="458.3" y1="58.5" x2="462.7" y2="58.5" stroke="#2c2cb4" stroke-width="0.9"/>
<line x1="458.3" y1="96.5" x2="462.7" y2="96.5" stroke="#2c2cb4" stroke-width="0.9"/>
<line x1="500.6" y1="59.8" x2="500.6" y2="82.3" stroke="#2c2cb4" stroke-width="0.9"/>
<line x1="498.4" y1="59.8" x2="502.8" y2="59.8" stroke="#2c2cb4" stroke-width="0.9"/>
<line x1="498.4" y1="82.3" x2="502.8" y2="82.3" stroke="#2c2cb4" stroke-width="0.9"/>
<polyline points="340.2,114.2 380.3,126.9 420.4,130.8 460.5,132.7 500.6,136.9" fill="none" stroke="#b8222c" stroke-width="1.1" stroke-linejoin="round"/>
<polyline points="340.2,114.2 380.3,113.4 420.4,93.2 460.5,78.8 500.6,80.4" fill="none" stroke="#b0e47a" stroke-width="1.1" stroke-linejoin="round"/>
<polyline points="340.2,114.2 380.3,113.3 420.4,91.9 460.5,77.3 500.6,70.8" fill="none" stroke="#2c2cb4" stroke-width="1.1" stroke-linejoin="round"/>
<rect x="338" y="112" width="4.4" height="4.4" fill="#d01010" stroke="none" stroke-width="1"/>
<rect x="378.1" y="124.7" width="4.4" height="4.4" fill="#d01010" stroke="none" stroke-width="1"/>
<rect x="418.2" y="128.6" width="4.4" height="4.4" fill="#d01010" stroke="none" stroke-width="1"/>
<rect x="458.3" y="130.5" width="4.4" height="4.4" fill="#d01010" stroke="none" stroke-width="1"/>
<rect x="498.4" y="134.7" width="4.4" height="4.4" fill="#d01010" stroke="none" stroke-width="1"/>
<rect x="338" y="112" width="4.4" height="4.4" fill="#84d040" stroke="none" stroke-width="1"/>
<rect x="378.1" y="111.2" width="4.4" height="4.4" fill="#84d040" stroke="none" stroke-width="1"/>
<rect x="418.2" y="91" width="4.4" height="4.4" fill="#84d040" stroke="none" stroke-width="1"/>
<rect x="458.3" y="76.6" width="4.4" height="4.4" fill="#84d040" stroke="none" stroke-width="1"/>
<rect x="498.4" y="78.2" width="4.4" height="4.4" fill="#84d040" stroke="none" stroke-width="1"/>
<rect x="338" y="112" width="4.4" height="4.4" fill="#1414d4" stroke="none" stroke-width="1"/>
<rect x="378.1" y="111.1" width="4.4" height="4.4" fill="#1414d4" stroke="none" stroke-width="1"/>
<rect x="418.2" y="89.7" width="4.4" height="4.4" fill="#1414d4" stroke="none" stroke-width="1"/>
<rect x="458.3" y="75.1" width="4.4" height="4.4" fill="#1414d4" stroke="none" stroke-width="1"/>
<rect x="498.4" y="68.6" width="4.4" height="4.4" fill="#1414d4" stroke="none" stroke-width="1"/>
<rect x="332.3" y="13.1" width="86" height="38.6" fill="#fff" stroke="#777" stroke-width="0.8"/>
<line x1="345.2" y1="21.9" x2="362.5" y2="21.9" stroke="#b8222c" stroke-width="1.1"/>
<rect x="352.1" y="19.8" width="4.2" height="4.2" fill="#d01010" stroke="none" stroke-width="1"/>
<text x="365.2" y="24.9" font-size="10.5" fill="#111" stroke="#111" text-anchor="start" textLength="46.3" lengthAdjust="spacingAndGlyphs">MgO layer</text>
<line x1="345.2" y1="33.8" x2="362.5" y2="33.8" stroke="#b0e47a" stroke-width="1.1"/>
<rect x="352.1" y="31.7" width="4.2" height="4.2" fill="#84d040" stroke="none" stroke-width="1"/>
<text x="365.2" y="36.8" font-size="10.5" fill="#111" stroke="#111" text-anchor="start" textLength="33.8" lengthAdjust="spacingAndGlyphs">W layer</text>
<line x1="345.2" y1="45.8" x2="362.5" y2="45.8" stroke="#2c2cb4" stroke-width="1.1"/>
<rect x="352.1" y="43.7" width="4.2" height="4.2" fill="#1414d4" stroke="none" stroke-width="1"/>
<text x="365.2" y="48.8" font-size="10.5" fill="#111" stroke="#111" text-anchor="start" textLength="36" lengthAdjust="spacingAndGlyphs">Ta layer</text>
<line x1="46.68" y1="195.2" x2="46.68" y2="336.3" stroke="#f1f1f1" stroke-width="0.8"/>
<line x1="78.72" y1="195.2" x2="78.72" y2="336.3" stroke="#f1f1f1" stroke-width="0.8"/>
<line x1="110.78" y1="195.2" x2="110.78" y2="336.3" stroke="#f1f1f1" stroke-width="0.8"/>
<line x1="142.82" y1="195.2" x2="142.82" y2="336.3" stroke="#f1f1f1" stroke-width="0.8"/>
<line x1="174.88" y1="195.2" x2="174.88" y2="336.3" stroke="#f1f1f1" stroke-width="0.8"/>
<line x1="206.93" y1="195.2" x2="206.93" y2="336.3" stroke="#f1f1f1" stroke-width="0.8"/>
<line x1="46.5" y1="335.36" x2="238.8" y2="335.36" stroke="#f1f1f1" stroke-width="0.8"/>
<line x1="46.5" y1="330.36" x2="238.8" y2="330.36" stroke="#f1f1f1" stroke-width="0.8"/>
<line x1="46.5" y1="326.81" x2="238.8" y2="326.81" stroke="#f1f1f1" stroke-width="0.8"/>
<line x1="46.5" y1="324.06" x2="238.8" y2="324.06" stroke="#f1f1f1" stroke-width="0.8"/>
<line x1="46.5" y1="321.82" x2="238.8" y2="321.82" stroke="#f1f1f1" stroke-width="0.8"/>
<line x1="46.5" y1="319.92" x2="238.8" y2="319.92" stroke="#f1f1f1" stroke-width="0.8"/>
<line x1="46.5" y1="318.27" x2="238.8" y2="318.27" stroke="#f1f1f1" stroke-width="0.8"/>
<line x1="46.5" y1="316.82" x2="238.8" y2="316.82" stroke="#f1f1f1" stroke-width="0.8"/>
<line x1="46.5" y1="306.98" x2="238.8" y2="306.98" stroke="#f1f1f1" stroke-width="0.8"/>
<line x1="46.5" y1="301.98" x2="238.8" y2="301.98" stroke="#f1f1f1" stroke-width="0.8"/>
<line x1="46.5" y1="298.43" x2="238.8" y2="298.43" stroke="#f1f1f1" stroke-width="0.8"/>
<line x1="46.5" y1="295.68" x2="238.8" y2="295.68" stroke="#f1f1f1" stroke-width="0.8"/>
<line x1="46.5" y1="293.44" x2="238.8" y2="293.44" stroke="#f1f1f1" stroke-width="0.8"/>
<line x1="46.5" y1="291.54" x2="238.8" y2="291.54" stroke="#f1f1f1" stroke-width="0.8"/>
<line x1="46.5" y1="289.89" x2="238.8" y2="289.89" stroke="#f1f1f1" stroke-width="0.8"/>
<line x1="46.5" y1="288.44" x2="238.8" y2="288.44" stroke="#f1f1f1" stroke-width="0.8"/>
<line x1="46.5" y1="278.6" x2="238.8" y2="278.6" stroke="#f1f1f1" stroke-width="0.8"/>
<line x1="46.5" y1="273.6" x2="238.8" y2="273.6" stroke="#f1f1f1" stroke-width="0.8"/>
<line x1="46.5" y1="270.05" x2="238.8" y2="270.05" stroke="#f1f1f1" stroke-width="0.8"/>
<line x1="46.5" y1="267.3" x2="238.8" y2="267.3" stroke="#f1f1f1" stroke-width="0.8"/>
<line x1="46.5" y1="265.06" x2="238.8" y2="265.06" stroke="#f1f1f1" stroke-width="0.8"/>
<line x1="46.5" y1="263.16" x2="238.8" y2="263.16" stroke="#f1f1f1" stroke-width="0.8"/>
<line x1="46.5" y1="261.51" x2="238.8" y2="261.51" stroke="#f1f1f1" stroke-width="0.8"/>
<line x1="46.5" y1="260.06" x2="238.8" y2="260.06" stroke="#f1f1f1" stroke-width="0.8"/>
<line x1="46.5" y1="250.22" x2="238.8" y2="250.22" stroke="#f1f1f1" stroke-width="0.8"/>
<line x1="46.5" y1="245.22" x2="238.8" y2="245.22" stroke="#f1f1f1" stroke-width="0.8"/>
<line x1="46.5" y1="241.67" x2="238.8" y2="241.67" stroke="#f1f1f1" stroke-width="0.8"/>
<line x1="46.5" y1="238.92" x2="238.8" y2="238.92" stroke="#f1f1f1" stroke-width="0.8"/>
<line x1="46.5" y1="236.68" x2="238.8" y2="236.68" stroke="#f1f1f1" stroke-width="0.8"/>
<line x1="46.5" y1="234.78" x2="238.8" y2="234.78" stroke="#f1f1f1" stroke-width="0.8"/>
<line x1="46.5" y1="233.13" x2="238.8" y2="233.13" stroke="#f1f1f1" stroke-width="0.8"/>
<line x1="46.5" y1="231.68" x2="238.8" y2="231.68" stroke="#f1f1f1" stroke-width="0.8"/>
<line x1="46.5" y1="221.84" x2="238.8" y2="221.84" stroke="#f1f1f1" stroke-width="0.8"/>
<line x1="46.5" y1="216.84" x2="238.8" y2="216.84" stroke="#f1f1f1" stroke-width="0.8"/>
<line x1="46.5" y1="213.29" x2="238.8" y2="213.29" stroke="#f1f1f1" stroke-width="0.8"/>
<line x1="46.5" y1="210.54" x2="238.8" y2="210.54" stroke="#f1f1f1" stroke-width="0.8"/>
<line x1="46.5" y1="208.3" x2="238.8" y2="208.3" stroke="#f1f1f1" stroke-width="0.8"/>
<line x1="46.5" y1="206.4" x2="238.8" y2="206.4" stroke="#f1f1f1" stroke-width="0.8"/>
<line x1="46.5" y1="204.75" x2="238.8" y2="204.75" stroke="#f1f1f1" stroke-width="0.8"/>
<line x1="46.5" y1="203.3" x2="238.8" y2="203.3" stroke="#f1f1f1" stroke-width="0.8"/>
<line x1="62.7" y1="195.2" x2="62.7" y2="336.3" stroke="#c8c8c8" stroke-width="0.9"/>
<line x1="94.75" y1="195.2" x2="94.75" y2="336.3" stroke="#c8c8c8" stroke-width="0.9"/>
<line x1="126.8" y1="195.2" x2="126.8" y2="336.3" stroke="#c8c8c8" stroke-width="0.9"/>
<line x1="158.85" y1="195.2" x2="158.85" y2="336.3" stroke="#c8c8c8" stroke-width="0.9"/>
<line x1="190.9" y1="195.2" x2="190.9" y2="336.3" stroke="#c8c8c8" stroke-width="0.9"/>
<line x1="222.95" y1="195.2" x2="222.95" y2="336.3" stroke="#c8c8c8" stroke-width="0.9"/>
<line x1="46.5" y1="315.52" x2="238.8" y2="315.52" stroke="#c8c8c8" stroke-width="0.9"/>
<line x1="46.5" y1="287.14" x2="238.8" y2="287.14" stroke="#c8c8c8" stroke-width="0.9"/>
<line x1="46.5" y1="258.76" x2="238.8" y2="258.76" stroke="#c8c8c8" stroke-width="0.9"/>
<line x1="46.5" y1="230.38" x2="238.8" y2="230.38" stroke="#c8c8c8" stroke-width="0.9"/>
<line x1="46.5" y1="202" x2="238.8" y2="202" stroke="#c8c8c8" stroke-width="0.9"/>
<line x1="46.68" y1="336.3" x2="46.68" y2="334.5" stroke="#222" stroke-width="1"/>
<line x1="46.68" y1="195.2" x2="46.68" y2="197" stroke="#222" stroke-width="1"/>
<line x1="62.7" y1="336.3" x2="62.7" y2="333.3" stroke="#222" stroke-width="1"/>
<line x1="62.7" y1="195.2" x2="62.7" y2="198.2" stroke="#222" stroke-width="1"/>
<line x1="78.72" y1="336.3" x2="78.72" y2="334.5" stroke="#222" stroke-width="1"/>
<line x1="78.72" y1="195.2" x2="78.72" y2="197" stroke="#222" stroke-width="1"/>
<line x1="94.75" y1="336.3" x2="94.75" y2="333.3" stroke="#222" stroke-width="1"/>
<line x1="94.75" y1="195.2" x2="94.75" y2="198.2" stroke="#222" stroke-width="1"/>
<line x1="110.78" y1="336.3" x2="110.78" y2="334.5" stroke="#222" stroke-width="1"/>
<line x1="110.78" y1="195.2" x2="110.78" y2="197" stroke="#222" stroke-width="1"/>
<line x1="126.8" y1="336.3" x2="126.8" y2="333.3" stroke="#222" stroke-width="1"/>
<line x1="126.8" y1="195.2" x2="126.8" y2="198.2" stroke="#222" stroke-width="1"/>
<line x1="142.82" y1="336.3" x2="142.82" y2="334.5" stroke="#222" stroke-width="1"/>
<line x1="142.82" y1="195.2" x2="142.82" y2="197" stroke="#222" stroke-width="1"/>
<line x1="158.85" y1="336.3" x2="158.85" y2="333.3" stroke="#222" stroke-width="1"/>
<line x1="158.85" y1="195.2" x2="158.85" y2="198.2" stroke="#222" stroke-width="1"/>
<line x1="174.88" y1="336.3" x2="174.88" y2="334.5" stroke="#222" stroke-width="1"/>
<line x1="174.88" y1="195.2" x2="174.88" y2="197" stroke="#222" stroke-width="1"/>
<line x1="190.9" y1="336.3" x2="190.9" y2="333.3" stroke="#222" stroke-width="1"/>
<line x1="190.9" y1="195.2" x2="190.9" y2="198.2" stroke="#222" stroke-width="1"/>
<line x1="206.93" y1="336.3" x2="206.93" y2="334.5" stroke="#222" stroke-width="1"/>
<line x1="206.93" y1="195.2" x2="206.93" y2="197" stroke="#222" stroke-width="1"/>
<line x1="222.95" y1="336.3" x2="222.95" y2="333.3" stroke="#222" stroke-width="1"/>
<line x1="222.95" y1="195.2" x2="222.95" y2="198.2" stroke="#222" stroke-width="1"/>
<line x1="46.5" y1="335.36" x2="48.3" y2="335.36" stroke="#222" stroke-width="0.9"/>
<line x1="238.8" y1="335.36" x2="237" y2="335.36" stroke="#222" stroke-width="0.9"/>
<line x1="46.5" y1="330.36" x2="48.3" y2="330.36" stroke="#222" stroke-width="0.9"/>
<line x1="238.8" y1="330.36" x2="237" y2="330.36" stroke="#222" stroke-width="0.9"/>
<line x1="46.5" y1="326.81" x2="48.3" y2="326.81" stroke="#222" stroke-width="0.9"/>
<line x1="238.8" y1="326.81" x2="237" y2="326.81" stroke="#222" stroke-width="0.9"/>
<line x1="46.5" y1="324.06" x2="48.3" y2="324.06" stroke="#222" stroke-width="0.9"/>
<line x1="238.8" y1="324.06" x2="237" y2="324.06" stroke="#222" stroke-width="0.9"/>
<line x1="46.5" y1="321.82" x2="48.3" y2="321.82" stroke="#222" stroke-width="0.9"/>
<line x1="238.8" y1="321.82" x2="237" y2="321.82" stroke="#222" stroke-width="0.9"/>
<line x1="46.5" y1="319.92" x2="48.3" y2="319.92" stroke="#222" stroke-width="0.9"/>
<line x1="238.8" y1="319.92" x2="237" y2="319.92" stroke="#222" stroke-width="0.9"/>
<line x1="46.5" y1="318.27" x2="48.3" y2="318.27" stroke="#222" stroke-width="0.9"/>
<line x1="238.8" y1="318.27" x2="237" y2="318.27" stroke="#222" stroke-width="0.9"/>
<line x1="46.5" y1="316.82" x2="48.3" y2="316.82" stroke="#222" stroke-width="0.9"/>
<line x1="238.8" y1="316.82" x2="237" y2="316.82" stroke="#222" stroke-width="0.9"/>
<line x1="46.5" y1="315.52" x2="50" y2="315.52" stroke="#222" stroke-width="0.9"/>
<line x1="238.8" y1="315.52" x2="235.3" y2="315.52" stroke="#222" stroke-width="0.9"/>
<line x1="46.5" y1="306.98" x2="48.3" y2="306.98" stroke="#222" stroke-width="0.9"/>
<line x1="238.8" y1="306.98" x2="237" y2="306.98" stroke="#222" stroke-width="0.9"/>
<line x1="46.5" y1="301.98" x2="48.3" y2="301.98" stroke="#222" stroke-width="0.9"/>
<line x1="238.8" y1="301.98" x2="237" y2="301.98" stroke="#222" stroke-width="0.9"/>
<line x1="46.5" y1="298.43" x2="48.3" y2="298.43" stroke="#222" stroke-width="0.9"/>
<line x1="238.8" y1="298.43" x2="237" y2="298.43" stroke="#222" stroke-width="0.9"/>
<line x1="46.5" y1="295.68" x2="48.3" y2="295.68" stroke="#222" stroke-width="0.9"/>
<line x1="238.8" y1="295.68" x2="237" y2="295.68" stroke="#222" stroke-width="0.9"/>
<line x1="46.5" y1="293.44" x2="48.3" y2="293.44" stroke="#222" stroke-width="0.9"/>
<line x1="238.8" y1="293.44" x2="237" y2="293.44" stroke="#222" stroke-width="0.9"/>
<line x1="46.5" y1="291.54" x2="48.3" y2="291.54" stroke="#222" stroke-width="0.9"/>
<line x1="238.8" y1="291.54" x2="237" y2="291.54" stroke="#222" stroke-width="0.9"/>
<line x1="46.5" y1="289.89" x2="48.3" y2="289.89" stroke="#222" stroke-width="0.9"/>
<line x1="238.8" y1="289.89" x2="237" y2="289.89" stroke="#222" stroke-width="0.9"/>
<line x1="46.5" y1="288.44" x2="48.3" y2="288.44" stroke="#222" stroke-width="0.9"/>
<line x1="238.8" y1="288.44" x2="237" y2="288.44" stroke="#222" stroke-width="0.9"/>
<line x1="46.5" y1="287.14" x2="50" y2="287.14" stroke="#222" stroke-width="0.9"/>
<line x1="238.8" y1="287.14" x2="235.3" y2="287.14" stroke="#222" stroke-width="0.9"/>
<line x1="46.5" y1="278.6" x2="48.3" y2="278.6" stroke="#222" stroke-width="0.9"/>
<line x1="238.8" y1="278.6" x2="237" y2="278.6" stroke="#222" stroke-width="0.9"/>
<line x1="46.5" y1="273.6" x2="48.3" y2="273.6" stroke="#222" stroke-width="0.9"/>
<line x1="238.8" y1="273.6" x2="237" y2="273.6" stroke="#222" stroke-width="0.9"/>
<line x1="46.5" y1="270.05" x2="48.3" y2="270.05" stroke="#222" stroke-width="0.9"/>
<line x1="238.8" y1="270.05" x2="237" y2="270.05" stroke="#222" stroke-width="0.9"/>
<line x1="46.5" y1="267.3" x2="48.3" y2="267.3" stroke="#222" stroke-width="0.9"/>
<line x1="238.8" y1="267.3" x2="237" y2="267.3" stroke="#222" stroke-width="0.9"/>
<line x1="46.5" y1="265.06" x2="48.3" y2="265.06" stroke="#222" stroke-width="0.9"/>
<line x1="238.8" y1="265.06" x2="237" y2="265.06" stroke="#222" stroke-width="0.9"/>
<line x1="46.5" y1="263.16" x2="48.3" y2="263.16" stroke="#222" stroke-width="0.9"/>
<line x1="238.8" y1="263.16" x2="237" y2="263.16" stroke="#222" stroke-width="0.9"/>
<line x1="46.5" y1="261.51" x2="48.3" y2="261.51" stroke="#222" stroke-width="0.9"/>
<line x1="238.8" y1="261.51" x2="237" y2="261.51" stroke="#222" stroke-width="0.9"/>
<line x1="46.5" y1="260.06" x2="48.3" y2="260.06" stroke="#222" stroke-width="0.9"/>
<line x1="238.8" y1="260.06" x2="237" y2="260.06" stroke="#222" stroke-width="0.9"/>
<line x1="46.5" y1="258.76" x2="50" y2="258.76" stroke="#222" stroke-width="0.9"/>
<line x1="238.8" y1="258.76" x2="235.3" y2="258.76" stroke="#222" stroke-width="0.9"/>
<line x1="46.5" y1="250.22" x2="48.3" y2="250.22" stroke="#222" stroke-width="0.9"/>
<line x1="238.8" y1="250.22" x2="237" y2="250.22" stroke="#222" stroke-width="0.9"/>
<line x1="46.5" y1="245.22" x2="48.3" y2="245.22" stroke="#222" stroke-width="0.9"/>
<line x1="238.8" y1="245.22" x2="237" y2="245.22" stroke="#222" stroke-width="0.9"/>
<line x1="46.5" y1="241.67" x2="48.3" y2="241.67" stroke="#222" stroke-width="0.9"/>
<line x1="238.8" y1="241.67" x2="237" y2="241.67" stroke="#222" stroke-width="0.9"/>
<line x1="46.5" y1="238.92" x2="48.3" y2="238.92" stroke="#222" stroke-width="0.9"/>
<line x1="238.8" y1="238.92" x2="237" y2="238.92" stroke="#222" stroke-width="0.9"/>
<line x1="46.5" y1="236.68" x2="48.3" y2="236.68" stroke="#222" stroke-width="0.9"/>
<line x1="238.8" y1="236.68" x2="237" y2="236.68" stroke="#222" stroke-width="0.9"/>
<line x1="46.5" y1="234.78" x2="48.3" y2="234.78" stroke="#222" stroke-width="0.9"/>
<line x1="238.8" y1="234.78" x2="237" y2="234.78" stroke="#222" stroke-width="0.9"/>
<line x1="46.5" y1="233.13" x2="48.3" y2="233.13" stroke="#222" stroke-width="0.9"/>
<line x1="238.8" y1="233.13" x2="237" y2="233.13" stroke="#222" stroke-width="0.9"/>
<line x1="46.5" y1="231.68" x2="48.3" y2="231.68" stroke="#222" stroke-width="0.9"/>
<line x1="238.8" y1="231.68" x2="237" y2="231.68" stroke="#222" stroke-width="0.9"/>
<line x1="46.5" y1="230.38" x2="50" y2="230.38" stroke="#222" stroke-width="0.9"/>
<line x1="238.8" y1="230.38" x2="235.3" y2="230.38" stroke="#222" stroke-width="0.9"/>
<line x1="46.5" y1="221.84" x2="48.3" y2="221.84" stroke="#222" stroke-width="0.9"/>
<line x1="238.8" y1="221.84" x2="237" y2="221.84" stroke="#222" stroke-width="0.9"/>
<line x1="46.5" y1="216.84" x2="48.3" y2="216.84" stroke="#222" stroke-width="0.9"/>
<line x1="238.8" y1="216.84" x2="237" y2="216.84" stroke="#222" stroke-width="0.9"/>
<line x1="46.5" y1="213.29" x2="48.3" y2="213.29" stroke="#222" stroke-width="0.9"/>
<line x1="238.8" y1="213.29" x2="237" y2="213.29" stroke="#222" stroke-width="0.9"/>
<line x1="46.5" y1="210.54" x2="48.3" y2="210.54" stroke="#222" stroke-width="0.9"/>
<line x1="238.8" y1="210.54" x2="237" y2="210.54" stroke="#222" stroke-width="0.9"/>
<line x1="46.5" y1="208.3" x2="48.3" y2="208.3" stroke="#222" stroke-width="0.9"/>
<line x1="238.8" y1="208.3" x2="237" y2="208.3" stroke="#222" stroke-width="0.9"/>
<line x1="46.5" y1="206.4" x2="48.3" y2="206.4" stroke="#222" stroke-width="0.9"/>
<line x1="238.8" y1="206.4" x2="237" y2="206.4" stroke="#222" stroke-width="0.9"/>
<line x1="46.5" y1="204.75" x2="48.3" y2="204.75" stroke="#222" stroke-width="0.9"/>
<line x1="238.8" y1="204.75" x2="237" y2="204.75" stroke="#222" stroke-width="0.9"/>
<line x1="46.5" y1="203.3" x2="48.3" y2="203.3" stroke="#222" stroke-width="0.9"/>
<line x1="238.8" y1="203.3" x2="237" y2="203.3" stroke="#222" stroke-width="0.9"/>
<line x1="46.5" y1="202" x2="50" y2="202" stroke="#222" stroke-width="0.9"/>
<line x1="238.8" y1="202" x2="235.3" y2="202" stroke="#222" stroke-width="0.9"/>
<rect x="46.5" y="195.2" width="192.3" height="141.1" fill="none" stroke="#4a4a4a" stroke-width="1.25"/>
<text x="43" y="318.52" font-size="8.4" text-anchor="end" fill="#111" stroke="#111">1E-13</text>
<text x="43" y="290.14" font-size="8.4" text-anchor="end" fill="#111" stroke="#111">1E-12</text>
<text x="43" y="261.76" font-size="8.4" text-anchor="end" fill="#111" stroke="#111">1E-11</text>
<text x="43" y="233.38" font-size="8.4" text-anchor="end" fill="#111" stroke="#111">1E-10</text>
<text x="43" y="205" font-size="8.4" text-anchor="end" fill="#111" stroke="#111">1E-9</text>
<text x="62.7" y="346.8" font-size="8.9" text-anchor="middle" fill="#111" stroke="#111">0</text>
<text x="94.75" y="346.8" font-size="8.9" text-anchor="middle" fill="#111" stroke="#111">1</text>
<text x="126.8" y="346.8" font-size="8.9" text-anchor="middle" fill="#111" stroke="#111">2</text>
<text x="158.85" y="346.8" font-size="8.9" text-anchor="middle" fill="#111" stroke="#111">3</text>
<text x="190.9" y="346.8" font-size="8.9" text-anchor="middle" fill="#111" stroke="#111">4</text>
<text x="222.95" y="346.8" font-size="8.9" text-anchor="middle" fill="#111" stroke="#111">5</text>
<text x="0" y="0" font-size="17" fill="#111" stroke="#111" transform="translate(0.4 365.2) scale(1 1.13)">(c)</text>
<text x="27" y="365" font-size="12.3" fill="#111" stroke="#111" text-anchor="start" textLength="231.5" lengthAdjust="spacingAndGlyphs">The thickness of package material (μm)</text>
<text x="13.6" y="347.8" font-size="12.3" fill="#111" stroke="#111" text-anchor="start" textLength="151.5" lengthAdjust="spacingAndGlyphs" transform="rotate(-90 13.6 347.8)">Mean BER of SMI at 25 <tspan font-weight="normal" stroke-width="0">℃</tspan></text>
<polyline points="62.7,199 94.75,256.6 126.8,278.2 158.85,293.7 190.9,306.7 222.95,314.5" fill="none" stroke="#9cd444" stroke-width="1.1" stroke-linejoin="round"/>
<rect x="60.3" y="196.6" width="4.8" height="4.8" fill="#b4c428" stroke="#6e6e10" stroke-width="0.9"/>
<rect x="92.35" y="254.2" width="4.8" height="4.8" fill="#b4c428" stroke="#6e6e10" stroke-width="0.9"/>
<rect x="124.4" y="275.8" width="4.8" height="4.8" fill="#b4c428" stroke="#6e6e10" stroke-width="0.9"/>
<rect x="156.45" y="291.3" width="4.8" height="4.8" fill="#b4c428" stroke="#6e6e10" stroke-width="0.9"/>
<rect x="188.5" y="304.3" width="4.8" height="4.8" fill="#b4c428" stroke="#6e6e10" stroke-width="0.9"/>
<rect x="220.55" y="312.1" width="4.8" height="4.8" fill="#b4c428" stroke="#6e6e10" stroke-width="0.9"/>
<rect x="120.5" y="204.6" width="109.5" height="22.9" fill="#fff" stroke="#777" stroke-width="0.8"/>
<line x1="131.6" y1="211.3" x2="149.4" y2="211.3" stroke="#b8222c" stroke-width="1.1"/>
<rect x="139.15" y="209.45" width="3.7" height="3.7" fill="#d01010" stroke="none" stroke-width="1"/>
<line x1="131.6" y1="222.1" x2="149.4" y2="222.1" stroke="#9cd444" stroke-width="1.1"/>
<path d="M141,219.9 L143.3,223.6 L138.7,223.6Z" fill="#60d020"/>
<text x="151.4" y="214.3" font-size="9.8" fill="#111" stroke="#111" text-anchor="start" textLength="65.3" lengthAdjust="spacingAndGlyphs">Epoxy package</text>
<text x="151.4" y="225.5" font-size="9.8" fill="#111" stroke="#111" text-anchor="start" textLength="73.5" lengthAdjust="spacingAndGlyphs">Ceramic package</text>
<line x1="341.37" y1="195.3" x2="341.37" y2="336.6" stroke="#f1f1f1" stroke-width="0.8"/>
<line x1="376.5" y1="195.3" x2="376.5" y2="336.6" stroke="#f1f1f1" stroke-width="0.8"/>
<line x1="411.62" y1="195.3" x2="411.62" y2="336.6" stroke="#f1f1f1" stroke-width="0.8"/>
<line x1="446.75" y1="195.3" x2="446.75" y2="336.6" stroke="#f1f1f1" stroke-width="0.8"/>
<line x1="481.88" y1="195.3" x2="481.88" y2="336.6" stroke="#f1f1f1" stroke-width="0.8"/>
<line x1="323.8" y1="322.65" x2="516.2" y2="322.65" stroke="#f1f1f1" stroke-width="0.8"/>
<line x1="323.8" y1="294.35" x2="516.2" y2="294.35" stroke="#f1f1f1" stroke-width="0.8"/>
<line x1="323.8" y1="266.05" x2="516.2" y2="266.05" stroke="#f1f1f1" stroke-width="0.8"/>
<line x1="323.8" y1="237.75" x2="516.2" y2="237.75" stroke="#f1f1f1" stroke-width="0.8"/>
<line x1="323.8" y1="209.45" x2="516.2" y2="209.45" stroke="#f1f1f1" stroke-width="0.8"/>
<line x1="358.93" y1="195.3" x2="358.93" y2="336.6" stroke="#c8c8c8" stroke-width="0.9"/>
<line x1="394.06" y1="195.3" x2="394.06" y2="336.6" stroke="#c8c8c8" stroke-width="0.9"/>
<line x1="429.19" y1="195.3" x2="429.19" y2="336.6" stroke="#c8c8c8" stroke-width="0.9"/>
<line x1="464.32" y1="195.3" x2="464.32" y2="336.6" stroke="#c8c8c8" stroke-width="0.9"/>
<line x1="499.45" y1="195.3" x2="499.45" y2="336.6" stroke="#c8c8c8" stroke-width="0.9"/>
<line x1="323.8" y1="308.5" x2="516.2" y2="308.5" stroke="#c8c8c8" stroke-width="0.9"/>
<line x1="323.8" y1="280.2" x2="516.2" y2="280.2" stroke="#c8c8c8" stroke-width="0.9"/>
<line x1="323.8" y1="251.9" x2="516.2" y2="251.9" stroke="#c8c8c8" stroke-width="0.9"/>
<line x1="323.8" y1="223.6" x2="516.2" y2="223.6" stroke="#c8c8c8" stroke-width="0.9"/>
<rect x="359.8" y="197" width="69" height="75" fill="#fff" stroke="none" stroke-width="1"/>
<rect x="430.4" y="197" width="74.6" height="75" fill="#fff" stroke="none" stroke-width="1"/>
<line x1="341.37" y1="336.6" x2="341.37" y2="334.8" stroke="#222" stroke-width="1"/>
<line x1="341.37" y1="195.3" x2="341.37" y2="197.1" stroke="#222" stroke-width="1"/>
<line x1="358.93" y1="336.6" x2="358.93" y2="333.6" stroke="#222" stroke-width="1"/>
<line x1="358.93" y1="195.3" x2="358.93" y2="198.3" stroke="#222" stroke-width="1"/>
<line x1="376.5" y1="336.6" x2="376.5" y2="334.8" stroke="#222" stroke-width="1"/>
<line x1="376.5" y1="195.3" x2="376.5" y2="197.1" stroke="#222" stroke-width="1"/>
<line x1="394.06" y1="336.6" x2="394.06" y2="333.6" stroke="#222" stroke-width="1"/>
<line x1="394.06" y1="195.3" x2="394.06" y2="198.3" stroke="#222" stroke-width="1"/>
<line x1="411.62" y1="336.6" x2="411.62" y2="334.8" stroke="#222" stroke-width="1"/>
<line x1="411.62" y1="195.3" x2="411.62" y2="197.1" stroke="#222" stroke-width="1"/>
<line x1="429.19" y1="336.6" x2="429.19" y2="333.6" stroke="#222" stroke-width="1"/>
<line x1="429.19" y1="195.3" x2="429.19" y2="198.3" stroke="#222" stroke-width="1"/>
<line x1="446.75" y1="336.6" x2="446.75" y2="334.8" stroke="#222" stroke-width="1"/>
<line x1="446.75" y1="195.3" x2="446.75" y2="197.1" stroke="#222" stroke-width="1"/>
<line x1="464.32" y1="336.6" x2="464.32" y2="333.6" stroke="#222" stroke-width="1"/>
<line x1="464.32" y1="195.3" x2="464.32" y2="198.3" stroke="#222" stroke-width="1"/>
<line x1="481.88" y1="336.6" x2="481.88" y2="334.8" stroke="#222" stroke-width="1"/>
<line x1="481.88" y1="195.3" x2="481.88" y2="197.1" stroke="#222" stroke-width="1"/>
<line x1="499.45" y1="336.6" x2="499.45" y2="333.6" stroke="#222" stroke-width="1"/>
<line x1="499.45" y1="195.3" x2="499.45" y2="198.3" stroke="#222" stroke-width="1"/>
<line x1="323.8" y1="336.8" x2="327.3" y2="336.8" stroke="#222" stroke-width="0.9"/>
<line x1="516.2" y1="336.8" x2="512.7" y2="336.8" stroke="#222" stroke-width="0.9"/>
<line x1="323.8" y1="322.65" x2="325.6" y2="322.65" stroke="#222" stroke-width="0.9"/>
<line x1="516.2" y1="322.65" x2="514.4" y2="322.65" stroke="#222" stroke-width="0.9"/>
<line x1="323.8" y1="308.5" x2="327.3" y2="308.5" stroke="#222" stroke-width="0.9"/>
<line x1="516.2" y1="308.5" x2="512.7" y2="308.5" stroke="#222" stroke-width="0.9"/>
<line x1="323.8" y1="294.35" x2="325.6" y2="294.35" stroke="#222" stroke-width="0.9"/>
<line x1="516.2" y1="294.35" x2="514.4" y2="294.35" stroke="#222" stroke-width="0.9"/>
<line x1="323.8" y1="280.2" x2="327.3" y2="280.2" stroke="#222" stroke-width="0.9"/>
<line x1="516.2" y1="280.2" x2="512.7" y2="280.2" stroke="#222" stroke-width="0.9"/>
<line x1="323.8" y1="266.05" x2="325.6" y2="266.05" stroke="#222" stroke-width="0.9"/>
<line x1="516.2" y1="266.05" x2="514.4" y2="266.05" stroke="#222" stroke-width="0.9"/>
<line x1="323.8" y1="251.9" x2="327.3" y2="251.9" stroke="#222" stroke-width="0.9"/>
<line x1="516.2" y1="251.9" x2="512.7" y2="251.9" stroke="#222" stroke-width="0.9"/>
<line x1="323.8" y1="237.75" x2="325.6" y2="237.75" stroke="#222" stroke-width="0.9"/>
<line x1="516.2" y1="237.75" x2="514.4" y2="237.75" stroke="#222" stroke-width="0.9"/>
<line x1="323.8" y1="223.6" x2="327.3" y2="223.6" stroke="#222" stroke-width="0.9"/>
<line x1="516.2" y1="223.6" x2="512.7" y2="223.6" stroke="#222" stroke-width="0.9"/>
<line x1="323.8" y1="209.45" x2="325.6" y2="209.45" stroke="#222" stroke-width="0.9"/>
<line x1="516.2" y1="209.45" x2="514.4" y2="209.45" stroke="#222" stroke-width="0.9"/>
<line x1="323.8" y1="195.3" x2="327.3" y2="195.3" stroke="#222" stroke-width="0.9"/>
<line x1="516.2" y1="195.3" x2="512.7" y2="195.3" stroke="#222" stroke-width="0.9"/>
<rect x="323.8" y="195.3" width="192.4" height="141.3" fill="none" stroke="#4a4a4a" stroke-width="1.25"/>
<text x="320.6" y="340" font-size="9.3" text-anchor="end" fill="#111" stroke="#111">500</text>
<text x="320.6" y="311.7" font-size="9.3" text-anchor="end" fill="#111" stroke="#111">1000</text>
<text x="320.6" y="283.4" font-size="9.3" text-anchor="end" fill="#111" stroke="#111">1500</text>
<text x="320.6" y="255.1" font-size="9.3" text-anchor="end" fill="#111" stroke="#111">2000</text>
<text x="320.6" y="226.8" font-size="9.3" text-anchor="end" fill="#111" stroke="#111">2500</text>
<text x="320.6" y="198.5" font-size="9.3" text-anchor="end" fill="#111" stroke="#111">3000</text>
<text x="323.8" y="347.3" font-size="9.3" text-anchor="middle" fill="#111" stroke="#111">0</text>
<text x="358.93" y="347.3" font-size="9.3" text-anchor="middle" fill="#111" stroke="#111">100</text>
<text x="394.06" y="347.3" font-size="9.3" text-anchor="middle" fill="#111" stroke="#111">200</text>
<text x="429.19" y="347.3" font-size="9.3" text-anchor="middle" fill="#111" stroke="#111">300</text>
<text x="464.32" y="347.3" font-size="9.3" text-anchor="middle" fill="#111" stroke="#111">400</text>
<text x="499.45" y="347.3" font-size="9.3" text-anchor="middle" fill="#111" stroke="#111">500</text>
<text x="0" y="0" font-size="17" fill="#111" stroke="#111" transform="translate(280.2 364.7) scale(1 1.13)">(d)</text>
<text x="365.1" y="366" font-size="12.3" fill="#111" stroke="#111" text-anchor="start" textLength="112" lengthAdjust="spacingAndGlyphs">Array spacing (nm)</text>
<text x="295.3" y="347" font-size="12.3" fill="#111" stroke="#111" text-anchor="start" textLength="146" lengthAdjust="spacingAndGlyphs" transform="rotate(-90 295.3 347)">Mean magnetic field (Oe)</text>
<line x1="337.85" y1="206.7" x2="337.85" y2="302.5" stroke="#b8222c" stroke-width="0.9"/>
<line x1="335.65" y1="206.7" x2="340.05" y2="206.7" stroke="#b8222c" stroke-width="0.9"/>
<line x1="335.65" y1="302.5" x2="340.05" y2="302.5" stroke="#b8222c" stroke-width="0.9"/>
<line x1="358.93" y1="287.5" x2="358.93" y2="305" stroke="#b8222c" stroke-width="0.9"/>
<line x1="356.73" y1="287.5" x2="361.13" y2="287.5" stroke="#b8222c" stroke-width="0.9"/>
<line x1="356.73" y1="305" x2="361.13" y2="305" stroke="#b8222c" stroke-width="0.9"/>
<line x1="429.19" y1="285.3" x2="429.19" y2="312.3" stroke="#b8222c" stroke-width="0.9"/>
<line x1="426.99" y1="285.3" x2="431.39" y2="285.3" stroke="#b8222c" stroke-width="0.9"/>
<line x1="426.99" y1="312.3" x2="431.39" y2="312.3" stroke="#b8222c" stroke-width="0.9"/>
<line x1="464.32" y1="296.9" x2="464.32" y2="313.6" stroke="#b8222c" stroke-width="0.9"/>
<line x1="462.12" y1="296.9" x2="466.52" y2="296.9" stroke="#b8222c" stroke-width="0.9"/>
<line x1="462.12" y1="313.6" x2="466.52" y2="313.6" stroke="#b8222c" stroke-width="0.9"/>
<line x1="499.45" y1="287.2" x2="499.45" y2="321.2" stroke="#b8222c" stroke-width="0.9"/>
<line x1="497.25" y1="287.2" x2="501.65" y2="287.2" stroke="#b8222c" stroke-width="0.9"/>
<line x1="497.25" y1="321.2" x2="501.65" y2="321.2" stroke="#b8222c" stroke-width="0.9"/>
<polyline points="337.85,254.5 358.93,295.8 394.06,298.8 429.19,298.8 464.32,305.3 499.45,304.2" fill="none" stroke="#b8222c" stroke-width="1.1" stroke-linejoin="round"/>
<rect x="335.55" y="252.2" width="4.6" height="4.6" fill="#d01010" stroke="none" stroke-width="1"/>
<rect x="356.63" y="293.5" width="4.6" height="4.6" fill="#d01010" stroke="none" stroke-width="1"/>
<rect x="391.76" y="296.5" width="4.6" height="4.6" fill="#d01010" stroke="none" stroke-width="1"/>
<rect x="426.89" y="296.5" width="4.6" height="4.6" fill="#d01010" stroke="none" stroke-width="1"/>
<rect x="462.02" y="303" width="4.6" height="4.6" fill="#d01010" stroke="none" stroke-width="1"/>
<rect x="497.15" y="301.9" width="4.6" height="4.6" fill="#d01010" stroke="none" stroke-width="1"/>
<defs>
<clipPath id="c00"><circle cx="373.7" cy="217.2" r="9.9"/></clipPath>
<clipPath id="c01"><circle cx="394.3" cy="217.2" r="9.9"/></clipPath>
<clipPath id="c02"><circle cx="414.7" cy="217.2" r="9.9"/></clipPath>
<clipPath id="c10"><circle cx="373.7" cy="237.5" r="9.9"/></clipPath>
<clipPath id="c11"><circle cx="394.3" cy="237.5" r="9.9"/></clipPath>
<clipPath id="c12"><circle cx="414.7" cy="237.5" r="9.9"/></clipPath>
<clipPath id="c20"><circle cx="373.7" cy="257.5" r="9.9"/></clipPath>
<clipPath id="c21"><circle cx="394.3" cy="257.5" r="9.9"/></clipPath>
<clipPath id="c22"><circle cx="414.7" cy="257.5" r="9.9"/></clipPath>
</defs>
<g clip-path="url(#c00)">
<circle cx="373.7" cy="217.2" r="10" fill="#8ce680"/>
<rect x="371" y="207" width="2" height="1" fill="#d81c14"/>
<rect x="376" y="207" width="8" height="1" fill="#d81c14"/>
<rect x="369" y="208" width="1" height="1" fill="#e2e85c"/>
<rect x="378" y="208" width="6" height="1" fill="#d81c14"/>
<rect x="368" y="209" width="3" height="1" fill="#e2e85c"/>
<rect x="379" y="209" width="5" height="1" fill="#d81c14"/>
<rect x="368" y="210" width="2" height="1" fill="#e2e85c"/>
<rect x="372" y="210" width="3" height="1" fill="#80e6e0"/>
<rect x="378" y="210" width="1" height="1" fill="#80e6e0"/>
<rect x="368" y="211" width="1" height="1" fill="#e2e85c"/>
<rect x="371" y="211" width="5" height="1" fill="#80e6e0"/>
<rect x="380" y="211" width="4" height="1" fill="#d81c14"/>
<rect x="363" y="212" width="4" height="1" fill="#e2e85c"/>
<rect x="368" y="212" width="1" height="1" fill="#e2e85c"/>
<rect x="371" y="212" width="8" height="1" fill="#80e6e0"/>
<rect x="381" y="212" width="3" height="1" fill="#d81c14"/>
<rect x="364" y="213" width="4" height="1" fill="#e2e85c"/>
<rect x="371" y="213" width="8" height="1" fill="#80e6e0"/>
<rect x="382" y="213" width="2" height="1" fill="#d81c14"/>
<rect x="373" y="214" width="6" height="1" fill="#80e6e0"/>
<rect x="382" y="214" width="2" height="1" fill="#d81c14"/>
<rect x="362" y="215" width="4" height="1" fill="#80e6e0"/>
<rect x="370" y="215" width="1" height="1" fill="#80e6e0"/>
<rect x="376" y="215" width="2" height="1" fill="#80e6e0"/>
<rect x="382" y="215" width="2" height="1" fill="#d81c14"/>
<rect x="362" y="216" width="5" height="1" fill="#80e6e0"/>
<rect x="368" y="216" width="3" height="1" fill="#80e6e0"/>
<rect x="374" y="216" width="1" height="1" fill="#e2e85c"/>
<rect x="377" y="216" width="1" height="1" fill="#80e6e0"/>
<rect x="382" y="216" width="2" height="1" fill="#d81c14"/>
<rect x="362" y="217" width="4" height="1" fill="#80e6e0"/>
<rect x="369" y="217" width="2" height="1" fill="#80e6e0"/>
<rect x="375" y="217" width="1" height="1" fill="#e2e85c"/>
<rect x="382" y="217" width="1" height="1" fill="#80e6e0"/>
<rect x="383" y="217" width="1" height="1" fill="#d81c14"/>
<rect x="362" y="218" width="3" height="1" fill="#80e6e0"/>
<rect x="368" y="218" width="4" height="1" fill="#80e6e0"/>
<rect x="379" y="218" width="1" height="1" fill="#e2e85c"/>
<rect x="383" y="218" width="1" height="1" fill="#80e6e0"/>
<rect x="370" y="219" width="3" height="1" fill="#80e6e0"/>
<rect x="378" y="219" width="2" height="1" fill="#e2e85c"/>
<rect x="382" y="219" width="1" height="1" fill="#80e6e0"/>
<rect x="371" y="220" width="1" height="1" fill="#80e6e0"/>
<rect x="375" y="220" width="2" height="1" fill="#80e6e0"/>
<rect x="381" y="220" width="1" height="1" fill="#80e6e0"/>
<rect x="366" y="221" width="3" height="1" fill="#e2e85c"/>
<rect x="375" y="221" width="3" height="1" fill="#80e6e0"/>
<rect x="366" y="222" width="3" height="1" fill="#e2e85c"/>
<rect x="370" y="222" width="2" height="1" fill="#80e6e0"/>
<rect x="375" y="222" width="3" height="1" fill="#80e6e0"/>
<rect x="367" y="223" width="1" height="1" fill="#e2e85c"/>
<rect x="370" y="223" width="2" height="1" fill="#80e6e0"/>
<rect x="375" y="223" width="2" height="1" fill="#80e6e0"/>
<rect x="380" y="223" width="1" height="1" fill="#80e6e0"/>
<rect x="369" y="224" width="3" height="1" fill="#80e6e0"/>
<rect x="370" y="225" width="2" height="1" fill="#80e6e0"/>
<rect x="371" y="226" width="1" height="1" fill="#80e6e0"/>
</g>
<circle cx="373.7" cy="217.2" r="9.6" fill="none" stroke="#d0d890" stroke-width="0.5" opacity="0.4"/>
<g clip-path="url(#c01)">
<circle cx="394.3" cy="217.2" r="10" fill="#8ce680"/>
<rect x="394" y="207" width="3" height="1" fill="#80e6e0"/>
<rect x="383" y="208" width="7" height="1" fill="#80e6e0"/>
<rect x="394" y="208" width="2" height="1" fill="#80e6e0"/>
<rect x="383" y="209" width="8" height="1" fill="#80e6e0"/>
<rect x="398" y="209" width="1" height="1" fill="#e2e85c"/>
<rect x="400" y="209" width="3" height="1" fill="#80e6e0"/>
<rect x="389" y="210" width="3" height="1" fill="#80e6e0"/>
<rect x="397" y="210" width="2" height="1" fill="#e2e85c"/>
<rect x="400" y="210" width="3" height="1" fill="#80e6e0"/>
<rect x="388" y="211" width="5" height="1" fill="#80e6e0"/>
<rect x="398" y="211" width="1" height="1" fill="#e2e85c"/>
<rect x="401" y="211" width="2" height="1" fill="#80e6e0"/>
<rect x="388" y="212" width="4" height="1" fill="#80e6e0"/>
<rect x="401" y="212" width="2" height="1" fill="#80e6e0"/>
<rect x="383" y="213" width="3" height="1" fill="#80e6e0"/>
<rect x="387" y="213" width="5" height="1" fill="#80e6e0"/>
<rect x="393" y="213" width="4" height="1" fill="#e2e85c"/>
<rect x="400" y="213" width="3" height="1" fill="#80e6e0"/>
<rect x="383" y="214" width="9" height="1" fill="#80e6e0"/>
<rect x="393" y="214" width="4" height="1" fill="#e2e85c"/>
<rect x="400" y="214" width="5" height="1" fill="#80e6e0"/>
<rect x="383" y="215" width="9" height="1" fill="#80e6e0"/>
<rect x="400" y="215" width="5" height="1" fill="#80e6e0"/>
<rect x="383" y="216" width="8" height="1" fill="#80e6e0"/>
<rect x="392" y="216" width="1" height="1" fill="#80e6e0"/>
<rect x="394" y="216" width="4" height="1" fill="#80e6e0"/>
<rect x="400" y="216" width="5" height="1" fill="#80e6e0"/>
<rect x="383" y="217" width="7" height="1" fill="#80e6e0"/>
<rect x="391" y="217" width="8" height="1" fill="#80e6e0"/>
<rect x="400" y="217" width="5" height="1" fill="#80e6e0"/>
<rect x="392" y="218" width="7" height="1" fill="#80e6e0"/>
<rect x="400" y="218" width="5" height="1" fill="#80e6e0"/>
<rect x="392" y="219" width="8" height="1" fill="#80e6e0"/>
<rect x="401" y="219" width="1" height="1" fill="#80e6e0"/>
<rect x="383" y="220" width="6" height="1" fill="#80e6e0"/>
<rect x="394" y="220" width="5" height="1" fill="#80e6e0"/>
<rect x="401" y="220" width="4" height="1" fill="#80e6e0"/>
<rect x="383" y="221" width="8" height="1" fill="#80e6e0"/>
<rect x="395" y="221" width="4" height="1" fill="#80e6e0"/>
<rect x="401" y="221" width="4" height="1" fill="#80e6e0"/>
<rect x="383" y="222" width="8" height="1" fill="#80e6e0"/>
<rect x="394" y="222" width="6" height="1" fill="#80e6e0"/>
<rect x="401" y="222" width="4" height="1" fill="#80e6e0"/>
<rect x="386" y="223" width="5" height="1" fill="#80e6e0"/>
<rect x="394" y="223" width="3" height="1" fill="#80e6e0"/>
<rect x="400" y="223" width="5" height="1" fill="#80e6e0"/>
<rect x="385" y="224" width="6" height="1" fill="#80e6e0"/>
<rect x="385" y="225" width="9" height="1" fill="#80e6e0"/>
<rect x="396" y="225" width="1" height="1" fill="#e2e85c"/>
<rect x="389" y="226" width="6" height="1" fill="#80e6e0"/>
</g>
<circle cx="394.3" cy="217.2" r="9.6" fill="none" stroke="#d0d890" stroke-width="0.5" opacity="0.4"/>
<g clip-path="url(#c02)">
<circle cx="414.7" cy="217.2" r="10" fill="#8ce680"/>
<rect x="411" y="207" width="14" height="1" fill="#d81c14"/>
<rect x="411" y="208" width="2" height="1" fill="#d81c14"/>
<rect x="417" y="208" width="8" height="1" fill="#d81c14"/>
<rect x="411" y="209" width="1" height="1" fill="#d81c14"/>
<rect x="412" y="209" width="3" height="1" fill="#80e6e0"/>
<rect x="417" y="209" width="1" height="1" fill="#e2e85c"/>
<rect x="418" y="209" width="7" height="1" fill="#d81c14"/>
<rect x="411" y="210" width="5" height="1" fill="#80e6e0"/>
<rect x="420" y="210" width="5" height="1" fill="#d81c14"/>
<rect x="412" y="211" width="8" height="1" fill="#80e6e0"/>
<rect x="421" y="211" width="4" height="1" fill="#d81c14"/>
<rect x="407" y="212" width="3" height="1" fill="#80e6e0"/>
<rect x="413" y="212" width="2" height="1" fill="#80e6e0"/>
<rect x="416" y="212" width="4" height="1" fill="#80e6e0"/>
<rect x="422" y="212" width="3" height="1" fill="#d81c14"/>
<rect x="406" y="213" width="1" height="1" fill="#80e6e0"/>
<rect x="408" y="213" width="1" height="1" fill="#80e6e0"/>
<rect x="411" y="213" width="1" height="1" fill="#e2e85c"/>
<rect x="423" y="213" width="2" height="1" fill="#d81c14"/>
<rect x="410" y="214" width="3" height="1" fill="#e2e85c"/>
<rect x="415" y="214" width="1" height="1" fill="#e2e85c"/>
<rect x="417" y="214" width="2" height="1" fill="#e2e85c"/>
<rect x="420" y="214" width="1" height="1" fill="#e2e85c"/>
<rect x="424" y="214" width="1" height="1" fill="#d81c14"/>
<rect x="411" y="215" width="1" height="1" fill="#e2e85c"/>
<rect x="416" y="215" width="1" height="1" fill="#e2e85c"/>
<rect x="418" y="215" width="3" height="1" fill="#e2e85c"/>
<rect x="405" y="216" width="3" height="1" fill="#e2e85c"/>
<rect x="410" y="216" width="2" height="1" fill="#e2e85c"/>
<rect x="414" y="216" width="1" height="1" fill="#80e6e0"/>
<rect x="417" y="216" width="4" height="1" fill="#e2e85c"/>
<rect x="424" y="216" width="1" height="1" fill="#80e6e0"/>
<rect x="405" y="217" width="2" height="1" fill="#e2e85c"/>
<rect x="410" y="217" width="2" height="1" fill="#e2e85c"/>
<rect x="413" y="217" width="2" height="1" fill="#80e6e0"/>
<rect x="419" y="217" width="2" height="1" fill="#e2e85c"/>
<rect x="423" y="217" width="1" height="1" fill="#80e6e0"/>
<rect x="424" y="217" width="1" height="1" fill="#d81c14"/>
<rect x="411" y="218" width="1" height="1" fill="#e2e85c"/>
<rect x="422" y="218" width="2" height="1" fill="#80e6e0"/>
<rect x="424" y="218" width="1" height="1" fill="#d81c14"/>
<rect x="403" y="219" width="4" height="1" fill="#80e6e0"/>
<rect x="408" y="219" width="1" height="1" fill="#80e6e0"/>
<rect x="411" y="219" width="4" height="1" fill="#e2e85c"/>
<rect x="422" y="219" width="1" height="1" fill="#80e6e0"/>
<rect x="424" y="219" width="1" height="1" fill="#d81c14"/>
<rect x="406" y="220" width="2" height="1" fill="#80e6e0"/>
<rect x="409" y="220" width="1" height="1" fill="#80e6e0"/>
<rect x="411" y="220" width="4" height="1" fill="#e2e85c"/>
<rect x="408" y="221" width="1" height="1" fill="#80e6e0"/>
<rect x="411" y="221" width="4" height="1" fill="#e2e85c"/>
<rect x="407" y="222" width="3" height="1" fill="#80e6e0"/>
<rect x="412" y="222" width="2" height="1" fill="#e2e85c"/>
<rect x="417" y="222" width="1" height="1" fill="#e2e85c"/>
<rect x="408" y="223" width="1" height="1" fill="#80e6e0"/>
<rect x="410" y="223" width="1" height="1" fill="#80e6e0"/>
<rect x="415" y="223" width="1" height="1" fill="#80e6e0"/>
<rect x="411" y="224" width="8" height="1" fill="#80e6e0"/>
<rect x="412" y="225" width="7" height="1" fill="#80e6e0"/>
<rect x="420" y="225" width="1" height="1" fill="#e2e85c"/>
<rect x="413" y="226" width="1" height="1" fill="#80e6e0"/>
<rect x="417" y="226" width="1" height="1" fill="#80e6e0"/>
</g>
<circle cx="414.7" cy="217.2" r="9.6" fill="none" stroke="#d0d890" stroke-width="0.5" opacity="0.4"/>
<g clip-path="url(#c10)">
<circle cx="373.7" cy="237.5" r="10" fill="#8ce680"/>
<rect x="371" y="227" width="2" height="1" fill="#80e6e0"/>
<rect x="377" y="228" width="1" height="1" fill="#e2e85c"/>
<rect x="369" y="229" width="1" height="1" fill="#80e6e0"/>
<rect x="375" y="229" width="2" height="1" fill="#e2e85c"/>
<rect x="379" y="229" width="5" height="1" fill="#80e6e0"/>
<rect x="369" y="230" width="1" height="1" fill="#80e6e0"/>
<rect x="377" y="230" width="6" height="1" fill="#80e6e0"/>
<rect x="368" y="231" width="3" height="1" fill="#80e6e0"/>
<rect x="377" y="231" width="7" height="1" fill="#80e6e0"/>
<rect x="364" y="232" width="8" height="1" fill="#80e6e0"/>
<rect x="373" y="232" width="1" height="1" fill="#80e6e0"/>
<rect x="377" y="232" width="2" height="1" fill="#80e6e0"/>
<rect x="380" y="232" width="4" height="1" fill="#80e6e0"/>
<rect x="364" y="233" width="7" height="1" fill="#80e6e0"/>
<rect x="372" y="233" width="1" height="1" fill="#80e6e0"/>
<rect x="374" y="233" width="1" height="1" fill="#80e6e0"/>
<rect x="381" y="233" width="3" height="1" fill="#80e6e0"/>
<rect x="364" y="234" width="1" height="1" fill="#80e6e0"/>
<rect x="366" y="234" width="4" height="1" fill="#80e6e0"/>
<rect x="371" y="234" width="2" height="1" fill="#80e6e0"/>
<rect x="375" y="234" width="2" height="1" fill="#80e6e0"/>
<rect x="379" y="234" width="2" height="1" fill="#e2e85c"/>
<rect x="382" y="234" width="2" height="1" fill="#80e6e0"/>
<rect x="368" y="235" width="5" height="1" fill="#80e6e0"/>
<rect x="376" y="235" width="1" height="1" fill="#80e6e0"/>
<rect x="379" y="235" width="2" height="1" fill="#e2e85c"/>
<rect x="383" y="235" width="1" height="1" fill="#80e6e0"/>
<rect x="365" y="236" width="2" height="1" fill="#e2e85c"/>
<rect x="368" y="236" width="2" height="1" fill="#80e6e0"/>
<rect x="379" y="236" width="1" height="1" fill="#e2e85c"/>
<rect x="382" y="236" width="2" height="1" fill="#80e6e0"/>
<rect x="362" y="237" width="2" height="1" fill="#80e6e0"/>
<rect x="368" y="237" width="2" height="1" fill="#80e6e0"/>
<rect x="373" y="237" width="1" height="1" fill="#80e6e0"/>
<rect x="381" y="237" width="3" height="1" fill="#80e6e0"/>
<rect x="362" y="238" width="8" height="1" fill="#80e6e0"/>
<rect x="372" y="238" width="3" height="1" fill="#80e6e0"/>
<rect x="376" y="238" width="1" height="1" fill="#80e6e0"/>
<rect x="378" y="238" width="6" height="1" fill="#80e6e0"/>
<rect x="362" y="239" width="7" height="1" fill="#80e6e0"/>
<rect x="372" y="239" width="2" height="1" fill="#80e6e0"/>
<rect x="377" y="239" width="1" height="1" fill="#80e6e0"/>
<rect x="379" y="239" width="5" height="1" fill="#80e6e0"/>
<rect x="365" y="240" width="4" height="1" fill="#80e6e0"/>
<rect x="371" y="240" width="4" height="1" fill="#80e6e0"/>
<rect x="376" y="240" width="1" height="1" fill="#80e6e0"/>
<rect x="378" y="240" width="1" height="1" fill="#80e6e0"/>
<rect x="380" y="240" width="4" height="1" fill="#80e6e0"/>
<rect x="367" y="241" width="2" height="1" fill="#80e6e0"/>
<rect x="371" y="241" width="3" height="1" fill="#80e6e0"/>
<rect x="378" y="241" width="1" height="1" fill="#e2e85c"/>
<rect x="381" y="241" width="3" height="1" fill="#80e6e0"/>
<rect x="371" y="242" width="3" height="1" fill="#80e6e0"/>
<rect x="378" y="242" width="2" height="1" fill="#e2e85c"/>
<rect x="382" y="242" width="2" height="1" fill="#80e6e0"/>
<rect x="368" y="243" width="1" height="1" fill="#80e6e0"/>
<rect x="370" y="243" width="4" height="1" fill="#80e6e0"/>
<rect x="378" y="243" width="2" height="1" fill="#e2e85c"/>
<rect x="369" y="244" width="1" height="1" fill="#80e6e0"/>
<rect x="371" y="244" width="3" height="1" fill="#80e6e0"/>
<rect x="375" y="244" width="1" height="1" fill="#80e6e0"/>
<rect x="378" y="244" width="1" height="1" fill="#e2e85c"/>
<rect x="380" y="244" width="1" height="1" fill="#e2e85c"/>
<rect x="368" y="245" width="3" height="1" fill="#80e6e0"/>
<rect x="374" y="245" width="3" height="1" fill="#80e6e0"/>
<rect x="369" y="246" width="3" height="1" fill="#80e6e0"/>
<rect x="373" y="246" width="4" height="1" fill="#80e6e0"/>
<rect x="368" y="247" width="9" height="1" fill="#80e6e0"/>
</g>
<circle cx="373.7" cy="237.5" r="9.6" fill="none" stroke="#d0d890" stroke-width="0.5" opacity="0.4"/>
<g clip-path="url(#c11)">
<circle cx="394.3" cy="237.5" r="10" fill="#8ce680"/>
<rect x="389" y="227" width="6" height="1" fill="#d81c14"/>
<rect x="395" y="227" width="3" height="1" fill="#e2e85c"/>
<rect x="390" y="228" width="6" height="1" fill="#d81c14"/>
<rect x="396" y="228" width="9" height="1" fill="#e2e85c"/>
<rect x="390" y="229" width="4" height="1" fill="#d81c14"/>
<rect x="394" y="229" width="3" height="1" fill="#e2e85c"/>
<rect x="400" y="229" width="5" height="1" fill="#d81c14"/>
<rect x="383" y="230" width="7" height="1" fill="#d81c14"/>
<rect x="391" y="230" width="2" height="1" fill="#d81c14"/>
<rect x="393" y="230" width="3" height="1" fill="#e2e85c"/>
<rect x="383" y="231" width="6" height="1" fill="#d81c14"/>
<rect x="390" y="231" width="1" height="1" fill="#e2e85c"/>
<rect x="392" y="231" width="1" height="1" fill="#d81c14"/>
<rect x="393" y="231" width="2" height="1" fill="#e2e85c"/>
<rect x="383" y="232" width="5" height="1" fill="#d81c14"/>
<rect x="389" y="232" width="1" height="1" fill="#e2e85c"/>
<rect x="391" y="232" width="1" height="1" fill="#e2e85c"/>
<rect x="392" y="232" width="2" height="1" fill="#d81c14"/>
<rect x="398" y="232" width="4" height="1" fill="#d81c14"/>
<rect x="402" y="232" width="1" height="1" fill="#e2e85c"/>
<rect x="383" y="233" width="5" height="1" fill="#d81c14"/>
<rect x="392" y="233" width="2" height="1" fill="#d81c14"/>
<rect x="399" y="233" width="1" height="1" fill="#e2e85c"/>
<rect x="400" y="233" width="5" height="1" fill="#d81c14"/>
<rect x="383" y="234" width="5" height="1" fill="#d81c14"/>
<rect x="391" y="234" width="3" height="1" fill="#d81c14"/>
<rect x="398" y="234" width="1" height="1" fill="#e2e85c"/>
<rect x="400" y="234" width="5" height="1" fill="#d81c14"/>
<rect x="383" y="235" width="4" height="1" fill="#d81c14"/>
<rect x="390" y="235" width="4" height="1" fill="#d81c14"/>
<rect x="397" y="235" width="1" height="1" fill="#e2e85c"/>
<rect x="399" y="235" width="1" height="1" fill="#e2e85c"/>
<rect x="400" y="235" width="5" height="1" fill="#d81c14"/>
<rect x="383" y="236" width="2" height="1" fill="#d81c14"/>
<rect x="386" y="236" width="2" height="1" fill="#e2e85c"/>
<rect x="388" y="236" width="4" height="1" fill="#d81c14"/>
<rect x="395" y="236" width="1" height="1" fill="#d81c14"/>
<rect x="398" y="236" width="2" height="1" fill="#e2e85c"/>
<rect x="400" y="236" width="5" height="1" fill="#d81c14"/>
<rect x="383" y="237" width="2" height="1" fill="#d81c14"/>
<rect x="385" y="237" width="3" height="1" fill="#e2e85c"/>
<rect x="388" y="237" width="4" height="1" fill="#d81c14"/>
<rect x="399" y="237" width="1" height="1" fill="#e2e85c"/>
<rect x="403" y="237" width="2" height="1" fill="#d81c14"/>
<rect x="383" y="238" width="2" height="1" fill="#d81c14"/>
<rect x="385" y="238" width="3" height="1" fill="#e2e85c"/>
<rect x="388" y="238" width="3" height="1" fill="#d81c14"/>
<rect x="398" y="238" width="1" height="1" fill="#e2e85c"/>
<rect x="403" y="238" width="2" height="1" fill="#d81c14"/>
<rect x="383" y="239" width="2" height="1" fill="#d81c14"/>
<rect x="385" y="239" width="2" height="1" fill="#e2e85c"/>
<rect x="387" y="239" width="3" height="1" fill="#d81c14"/>
<rect x="390" y="239" width="5" height="1" fill="#e2e85c"/>
<rect x="396" y="239" width="1" height="1" fill="#d81c14"/>
<rect x="397" y="239" width="3" height="1" fill="#e2e85c"/>
<rect x="402" y="239" width="2" height="1" fill="#e2e85c"/>
<rect x="385" y="240" width="1" height="1" fill="#e2e85c"/>
<rect x="386" y="240" width="1" height="1" fill="#d81c14"/>
<rect x="387" y="240" width="1" height="1" fill="#e2e85c"/>
<rect x="388" y="240" width="3" height="1" fill="#d81c14"/>
<rect x="391" y="240" width="4" height="1" fill="#e2e85c"/>
<rect x="395" y="240" width="3" height="1" fill="#d81c14"/>
<rect x="398" y="240" width="3" height="1" fill="#e2e85c"/>
<rect x="402" y="240" width="1" height="1" fill="#e2e85c"/>
<rect x="403" y="240" width="2" height="1" fill="#d81c14"/>
<rect x="383" y="241" width="3" height="1" fill="#d81c14"/>
<rect x="388" y="241" width="3" height="1" fill="#d81c14"/>
<rect x="391" y="241" width="1" height="1" fill="#e2e85c"/>
<rect x="393" y="241" width="1" height="1" fill="#e2e85c"/>
<rect x="394" y="241" width="3" height="1" fill="#d81c14"/>
<rect x="398" y="241" width="2" height="1" fill="#e2e85c"/>
<rect x="402" y="241" width="3" height="1" fill="#d81c14"/>
<rect x="383" y="242" width="7" height="1" fill="#d81c14"/>
<rect x="390" y="242" width="1" height="1" fill="#e2e85c"/>
<rect x="394" y="242" width="2" height="1" fill="#d81c14"/>
<rect x="399" y="242" width="6" height="1" fill="#d81c14"/>
<rect x="383" y="243" width="8" height="1" fill="#d81c14"/>
<rect x="391" y="243" width="1" height="1" fill="#e2e85c"/>
<rect x="394" y="243" width="1" height="1" fill="#d81c14"/>
<rect x="398" y="243" width="1" height="1" fill="#e2e85c"/>
<rect x="399" y="243" width="4" height="1" fill="#d81c14"/>
<rect x="383" y="244" width="5" height="1" fill="#d81c14"/>
<rect x="388" y="244" width="1" height="1" fill="#e2e85c"/>
<rect x="389" y="244" width="1" height="1" fill="#d81c14"/>
<rect x="390" y="244" width="3" height="1" fill="#e2e85c"/>
<rect x="397" y="244" width="2" height="1" fill="#e2e85c"/>
<rect x="399" y="244" width="3" height="1" fill="#d81c14"/>
<rect x="387" y="245" width="3" height="1" fill="#e2e85c"/>
<rect x="390" y="245" width="1" height="1" fill="#d81c14"/>
<rect x="391" y="245" width="3" height="1" fill="#e2e85c"/>
<rect x="398" y="245" width="5" height="1" fill="#d81c14"/>
<rect x="389" y="246" width="5" height="1" fill="#d81c14"/>
<rect x="397" y="246" width="8" height="1" fill="#d81c14"/>
<rect x="389" y="247" width="6" height="1" fill="#d81c14"/>
<rect x="395" y="247" width="1" height="1" fill="#80e6e0"/>
</g>
<circle cx="394.3" cy="237.5" r="9.6" fill="none" stroke="#d0d890" stroke-width="0.5" opacity="0.4"/>
<g clip-path="url(#c12)">
<circle cx="414.7" cy="237.5" r="10" fill="#8ce680"/>
<rect x="413" y="227" width="3" height="1" fill="#e2e85c"/>
<rect x="416" y="227" width="9" height="1" fill="#d81c14"/>
<rect x="410" y="228" width="7" height="1" fill="#e2e85c"/>
<rect x="417" y="228" width="8" height="1" fill="#d81c14"/>
<rect x="403" y="229" width="9" height="1" fill="#d81c14"/>
<rect x="413" y="229" width="4" height="1" fill="#e2e85c"/>
<rect x="417" y="229" width="8" height="1" fill="#d81c14"/>
<rect x="403" y="230" width="9" height="1" fill="#d81c14"/>
<rect x="415" y="230" width="2" height="1" fill="#e2e85c"/>
<rect x="417" y="230" width="8" height="1" fill="#d81c14"/>
<rect x="403" y="231" width="9" height="1" fill="#d81c14"/>
<rect x="414" y="231" width="1" height="1" fill="#d81c14"/>
<rect x="416" y="231" width="5" height="1" fill="#e2e85c"/>
<rect x="421" y="231" width="4" height="1" fill="#d81c14"/>
<rect x="403" y="232" width="7" height="1" fill="#d81c14"/>
<rect x="411" y="232" width="1" height="1" fill="#80e6e0"/>
<rect x="414" y="232" width="4" height="1" fill="#d81c14"/>
<rect x="418" y="232" width="5" height="1" fill="#e2e85c"/>
<rect x="423" y="232" width="2" height="1" fill="#d81c14"/>
<rect x="403" y="233" width="6" height="1" fill="#d81c14"/>
<rect x="409" y="233" width="1" height="1" fill="#e2e85c"/>
<rect x="413" y="233" width="5" height="1" fill="#d81c14"/>
<rect x="418" y="233" width="5" height="1" fill="#e2e85c"/>
<rect x="423" y="233" width="2" height="1" fill="#d81c14"/>
<rect x="403" y="234" width="6" height="1" fill="#d81c14"/>
<rect x="409" y="234" width="2" height="1" fill="#e2e85c"/>
<rect x="412" y="234" width="7" height="1" fill="#d81c14"/>
<rect x="419" y="234" width="1" height="1" fill="#e2e85c"/>
<rect x="420" y="234" width="5" height="1" fill="#d81c14"/>
<rect x="403" y="235" width="6" height="1" fill="#d81c14"/>
<rect x="409" y="235" width="2" height="1" fill="#e2e85c"/>
<rect x="412" y="235" width="1" height="1" fill="#e2e85c"/>
<rect x="413" y="235" width="5" height="1" fill="#d81c14"/>
<rect x="418" y="235" width="2" height="1" fill="#e2e85c"/>
<rect x="420" y="235" width="5" height="1" fill="#d81c14"/>
<rect x="403" y="236" width="6" height="1" fill="#d81c14"/>
<rect x="409" y="236" width="3" height="1" fill="#e2e85c"/>
<rect x="412" y="236" width="3" height="1" fill="#d81c14"/>
<rect x="415" y="236" width="4" height="1" fill="#e2e85c"/>
<rect x="421" y="236" width="4" height="1" fill="#d81c14"/>
<rect x="403" y="237" width="2" height="1" fill="#d81c14"/>
<rect x="406" y="237" width="4" height="1" fill="#d81c14"/>
<rect x="410" y="237" width="3" height="1" fill="#e2e85c"/>
<rect x="413" y="237" width="1" height="1" fill="#d81c14"/>
<rect x="414" y="237" width="4" height="1" fill="#e2e85c"/>
<rect x="421" y="237" width="1" height="1" fill="#e2e85c"/>
<rect x="422" y="237" width="3" height="1" fill="#d81c14"/>
<rect x="403" y="238" width="3" height="1" fill="#d81c14"/>
<rect x="407" y="238" width="3" height="1" fill="#d81c14"/>
<rect x="410" y="238" width="8" height="1" fill="#e2e85c"/>
<rect x="420" y="238" width="1" height="1" fill="#e2e85c"/>
<rect x="421" y="238" width="4" height="1" fill="#d81c14"/>
<rect x="403" y="239" width="8" height="1" fill="#d81c14"/>
<rect x="411" y="239" width="1" height="1" fill="#e2e85c"/>
<rect x="412" y="239" width="1" height="1" fill="#d81c14"/>
<rect x="414" y="239" width="4" height="1" fill="#e2e85c"/>
<rect x="419" y="239" width="6" height="1" fill="#d81c14"/>
<rect x="403" y="240" width="10" height="1" fill="#d81c14"/>
<rect x="414" y="240" width="1" height="1" fill="#e2e85c"/>
<rect x="415" y="240" width="1" height="1" fill="#d81c14"/>
<rect x="416" y="240" width="1" height="1" fill="#e2e85c"/>
<rect x="417" y="240" width="8" height="1" fill="#d81c14"/>
<rect x="403" y="241" width="9" height="1" fill="#d81c14"/>
<rect x="415" y="241" width="1" height="1" fill="#e2e85c"/>
<rect x="416" y="241" width="9" height="1" fill="#d81c14"/>
<rect x="403" y="242" width="9" height="1" fill="#d81c14"/>
<rect x="412" y="242" width="1" height="1" fill="#e2e85c"/>
<rect x="417" y="242" width="1" height="1" fill="#d81c14"/>
<rect x="419" y="242" width="2" height="1" fill="#d81c14"/>
<rect x="421" y="242" width="1" height="1" fill="#e2e85c"/>
<rect x="422" y="242" width="3" height="1" fill="#d81c14"/>
<rect x="403" y="243" width="9" height="1" fill="#d81c14"/>
<rect x="412" y="243" width="2" height="1" fill="#e2e85c"/>
<rect x="418" y="243" width="2" height="1" fill="#d81c14"/>
<rect x="420" y="243" width="1" height="1" fill="#e2e85c"/>
<rect x="421" y="243" width="4" height="1" fill="#d81c14"/>
<rect x="403" y="244" width="10" height="1" fill="#d81c14"/>
<rect x="413" y="244" width="6" height="1" fill="#e2e85c"/>
<rect x="419" y="244" width="6" height="1" fill="#d81c14"/>
<rect x="403" y="245" width="10" height="1" fill="#d81c14"/>
<rect x="413" y="245" width="5" height="1" fill="#e2e85c"/>
<rect x="418" y="245" width="7" height="1" fill="#d81c14"/>
<rect x="403" y="246" width="9" height="1" fill="#d81c14"/>
<rect x="412" y="246" width="7" height="1" fill="#e2e85c"/>
<rect x="412" y="247" width="4" height="1" fill="#e2e85c"/>
<rect x="416" y="247" width="9" height="1" fill="#d81c14"/>
</g>
<circle cx="414.7" cy="237.5" r="9.6" fill="none" stroke="#d0d890" stroke-width="0.5" opacity="0.4"/>
<g clip-path="url(#c20)">
<circle cx="373.7" cy="257.5" r="10" fill="#8ce680"/>
<rect x="374" y="247" width="1" height="1" fill="#e2e85c"/>
<rect x="372" y="248" width="3" height="1" fill="#e2e85c"/>
<rect x="362" y="249" width="7" height="1" fill="#d81c14"/>
<rect x="372" y="249" width="3" height="1" fill="#e2e85c"/>
<rect x="379" y="249" width="5" height="1" fill="#e2e85c"/>
<rect x="362" y="250" width="7" height="1" fill="#d81c14"/>
<rect x="370" y="250" width="1" height="1" fill="#80e6e0"/>
<rect x="373" y="250" width="2" height="1" fill="#e2e85c"/>
<rect x="378" y="250" width="5" height="1" fill="#e2e85c"/>
<rect x="362" y="251" width="5" height="1" fill="#d81c14"/>
<rect x="376" y="251" width="1" height="1" fill="#80e6e0"/>
<rect x="379" y="251" width="1" height="1" fill="#e2e85c"/>
<rect x="362" y="252" width="5" height="1" fill="#d81c14"/>
<rect x="373" y="252" width="1" height="1" fill="#80e6e0"/>
<rect x="375" y="252" width="3" height="1" fill="#80e6e0"/>
<rect x="362" y="253" width="5" height="1" fill="#d81c14"/>
<rect x="370" y="253" width="1" height="1" fill="#e2e85c"/>
<rect x="373" y="253" width="1" height="1" fill="#80e6e0"/>
<rect x="376" y="253" width="1" height="1" fill="#80e6e0"/>
<rect x="378" y="253" width="4" height="1" fill="#e2e85c"/>
<rect x="362" y="254" width="3" height="1" fill="#d81c14"/>
<rect x="366" y="254" width="1" height="1" fill="#d81c14"/>
<rect x="367" y="254" width="1" height="1" fill="#80e6e0"/>
<rect x="370" y="254" width="1" height="1" fill="#e2e85c"/>
<rect x="378" y="254" width="5" height="1" fill="#e2e85c"/>
<rect x="362" y="255" width="4" height="1" fill="#d81c14"/>
<rect x="366" y="255" width="1" height="1" fill="#80e6e0"/>
<rect x="380" y="255" width="4" height="1" fill="#e2e85c"/>
<rect x="362" y="256" width="3" height="1" fill="#d81c14"/>
<rect x="368" y="256" width="1" height="1" fill="#e2e85c"/>
<rect x="370" y="256" width="1" height="1" fill="#e2e85c"/>
<rect x="375" y="256" width="3" height="1" fill="#80e6e0"/>
<rect x="381" y="256" width="3" height="1" fill="#e2e85c"/>
<rect x="362" y="257" width="2" height="1" fill="#d81c14"/>
<rect x="367" y="257" width="3" height="1" fill="#e2e85c"/>
<rect x="371" y="257" width="1" height="1" fill="#e2e85c"/>
<rect x="374" y="257" width="5" height="1" fill="#80e6e0"/>
<rect x="382" y="257" width="2" height="1" fill="#e2e85c"/>
<rect x="364" y="258" width="1" height="1" fill="#e2e85c"/>
<rect x="375" y="258" width="3" height="1" fill="#80e6e0"/>
<rect x="369" y="259" width="2" height="1" fill="#80e6e0"/>
<rect x="374" y="259" width="3" height="1" fill="#80e6e0"/>
<rect x="380" y="259" width="1" height="1" fill="#80e6e0"/>
<rect x="362" y="260" width="3" height="1" fill="#d81c14"/>
<rect x="368" y="260" width="1" height="1" fill="#d81c14"/>
<rect x="370" y="260" width="6" height="1" fill="#80e6e0"/>
<rect x="362" y="261" width="3" height="1" fill="#d81c14"/>
<rect x="365" y="261" width="2" height="1" fill="#e2e85c"/>
<rect x="367" y="261" width="1" height="1" fill="#d81c14"/>
<rect x="368" y="261" width="1" height="1" fill="#e2e85c"/>
<rect x="371" y="261" width="5" height="1" fill="#80e6e0"/>
<rect x="377" y="261" width="3" height="1" fill="#e2e85c"/>
<rect x="367" y="262" width="1" height="1" fill="#e2e85c"/>
<rect x="375" y="262" width="2" height="1" fill="#80e6e0"/>
<rect x="378" y="262" width="6" height="1" fill="#e2e85c"/>
<rect x="362" y="263" width="4" height="1" fill="#d81c14"/>
<rect x="375" y="263" width="2" height="1" fill="#80e6e0"/>
<rect x="379" y="263" width="5" height="1" fill="#e2e85c"/>
<rect x="362" y="264" width="6" height="1" fill="#d81c14"/>
<rect x="370" y="264" width="1" height="1" fill="#80e6e0"/>
<rect x="376" y="264" width="2" height="1" fill="#80e6e0"/>
<rect x="379" y="264" width="4" height="1" fill="#e2e85c"/>
<rect x="362" y="265" width="7" height="1" fill="#d81c14"/>
<rect x="369" y="265" width="1" height="1" fill="#80e6e0"/>
<rect x="371" y="265" width="1" height="1" fill="#80e6e0"/>
<rect x="376" y="265" width="2" height="1" fill="#80e6e0"/>
<rect x="379" y="265" width="3" height="1" fill="#e2e85c"/>
<rect x="370" y="266" width="1" height="1" fill="#80e6e0"/>
<rect x="373" y="266" width="2" height="1" fill="#e2e85c"/>
<rect x="374" y="267" width="2" height="1" fill="#e2e85c"/>
</g>
<circle cx="373.7" cy="257.5" r="9.6" fill="none" stroke="#d0d890" stroke-width="0.5" opacity="0.4"/>
<g clip-path="url(#c21)">
<circle cx="394.3" cy="257.5" r="10" fill="#8ce680"/>
<rect x="394" y="247" width="3" height="1" fill="#e2e85c"/>
<rect x="393" y="248" width="1" height="1" fill="#80e6e0"/>
<rect x="391" y="249" width="1" height="1" fill="#e2e85c"/>
<rect x="393" y="249" width="2" height="1" fill="#80e6e0"/>
<rect x="400" y="249" width="5" height="1" fill="#80e6e0"/>
<rect x="388" y="250" width="1" height="1" fill="#80e6e0"/>
<rect x="394" y="250" width="1" height="1" fill="#80e6e0"/>
<rect x="398" y="250" width="1" height="1" fill="#e2e85c"/>
<rect x="401" y="250" width="3" height="1" fill="#80e6e0"/>
<rect x="388" y="251" width="3" height="1" fill="#80e6e0"/>
<rect x="401" y="251" width="4" height="1" fill="#80e6e0"/>
<rect x="387" y="252" width="1" height="1" fill="#e2e85c"/>
<rect x="389" y="252" width="3" height="1" fill="#80e6e0"/>
<rect x="394" y="252" width="1" height="1" fill="#e2e85c"/>
<rect x="397" y="252" width="2" height="1" fill="#80e6e0"/>
<rect x="400" y="252" width="1" height="1" fill="#80e6e0"/>
<rect x="386" y="253" width="3" height="1" fill="#e2e85c"/>
<rect x="390" y="253" width="2" height="1" fill="#80e6e0"/>
<rect x="393" y="253" width="3" height="1" fill="#e2e85c"/>
<rect x="397" y="253" width="3" height="1" fill="#80e6e0"/>
<rect x="402" y="253" width="1" height="1" fill="#e2e85c"/>
<rect x="387" y="254" width="1" height="1" fill="#e2e85c"/>
<rect x="389" y="254" width="2" height="1" fill="#80e6e0"/>
<rect x="393" y="254" width="4" height="1" fill="#e2e85c"/>
<rect x="397" y="254" width="4" height="1" fill="#80e6e0"/>
<rect x="402" y="254" width="1" height="1" fill="#e2e85c"/>
<rect x="389" y="255" width="2" height="1" fill="#80e6e0"/>
<rect x="394" y="255" width="2" height="1" fill="#e2e85c"/>
<rect x="398" y="255" width="5" height="1" fill="#80e6e0"/>
<rect x="385" y="256" width="3" height="1" fill="#e2e85c"/>
<rect x="389" y="256" width="1" height="1" fill="#80e6e0"/>
<rect x="392" y="256" width="3" height="1" fill="#80e6e0"/>
<rect x="398" y="256" width="6" height="1" fill="#80e6e0"/>
<rect x="386" y="257" width="2" height="1" fill="#e2e85c"/>
<rect x="390" y="257" width="5" height="1" fill="#80e6e0"/>
<rect x="397" y="257" width="8" height="1" fill="#80e6e0"/>
<rect x="385" y="258" width="4" height="1" fill="#e2e85c"/>
<rect x="389" y="258" width="6" height="1" fill="#80e6e0"/>
<rect x="397" y="258" width="5" height="1" fill="#80e6e0"/>
<rect x="385" y="259" width="3" height="1" fill="#e2e85c"/>
<rect x="389" y="259" width="4" height="1" fill="#80e6e0"/>
<rect x="397" y="259" width="5" height="1" fill="#80e6e0"/>
<rect x="385" y="260" width="2" height="1" fill="#e2e85c"/>
<rect x="388" y="260" width="6" height="1" fill="#80e6e0"/>
<rect x="398" y="260" width="5" height="1" fill="#80e6e0"/>
<rect x="385" y="261" width="1" height="1" fill="#e2e85c"/>
<rect x="387" y="261" width="8" height="1" fill="#80e6e0"/>
<rect x="399" y="261" width="5" height="1" fill="#80e6e0"/>
<rect x="384" y="262" width="12" height="1" fill="#80e6e0"/>
<rect x="399" y="262" width="6" height="1" fill="#80e6e0"/>
<rect x="383" y="263" width="13" height="1" fill="#80e6e0"/>
<rect x="398" y="263" width="7" height="1" fill="#80e6e0"/>
<rect x="384" y="264" width="5" height="1" fill="#80e6e0"/>
<rect x="392" y="264" width="4" height="1" fill="#80e6e0"/>
<rect x="398" y="264" width="5" height="1" fill="#80e6e0"/>
<rect x="390" y="265" width="1" height="1" fill="#e2e85c"/>
<rect x="394" y="265" width="1" height="1" fill="#80e6e0"/>
<rect x="398" y="265" width="3" height="1" fill="#80e6e0"/>
<rect x="398" y="266" width="3" height="1" fill="#80e6e0"/>
<rect x="393" y="267" width="4" height="1" fill="#e2e85c"/>
</g>
<circle cx="394.3" cy="257.5" r="9.6" fill="none" stroke="#d0d890" stroke-width="0.5" opacity="0.4"/>
<g clip-path="url(#c22)">
<circle cx="414.7" cy="257.5" r="10" fill="#8ce680"/>
<rect x="418" y="249" width="1" height="1" fill="#80e6e0"/>
<rect x="411" y="250" width="2" height="1" fill="#80e6e0"/>
<rect x="414" y="250" width="1" height="1" fill="#e2e85c"/>
<rect x="407" y="251" width="1" height="1" fill="#e2e85c"/>
<rect x="411" y="251" width="2" height="1" fill="#80e6e0"/>
<rect x="406" y="252" width="2" height="1" fill="#e2e85c"/>
<rect x="414" y="252" width="1" height="1" fill="#e2e85c"/>
<rect x="407" y="253" width="1" height="1" fill="#e2e85c"/>
<rect x="409" y="253" width="6" height="1" fill="#e2e85c"/>
<rect x="408" y="254" width="1" height="1" fill="#e2e85c"/>
<rect x="410" y="254" width="5" height="1" fill="#e2e85c"/>
<rect x="409" y="255" width="3" height="1" fill="#e2e85c"/>
<rect x="415" y="255" width="4" height="1" fill="#80e6e0"/>
<rect x="408" y="256" width="1" height="1" fill="#e2e85c"/>
<rect x="410" y="256" width="1" height="1" fill="#e2e85c"/>
<rect x="415" y="256" width="5" height="1" fill="#80e6e0"/>
<rect x="421" y="256" width="2" height="1" fill="#e2e85c"/>
<rect x="407" y="257" width="3" height="1" fill="#e2e85c"/>
<rect x="415" y="257" width="4" height="1" fill="#80e6e0"/>
<rect x="421" y="257" width="2" height="1" fill="#e2e85c"/>
<rect x="424" y="257" width="1" height="1" fill="#80e6e0"/>
<rect x="408" y="258" width="3" height="1" fill="#e2e85c"/>
<rect x="414" y="258" width="1" height="1" fill="#80e6e0"/>
<rect x="416" y="258" width="1" height="1" fill="#80e6e0"/>
<rect x="418" y="258" width="1" height="1" fill="#80e6e0"/>
<rect x="421" y="258" width="1" height="1" fill="#e2e85c"/>
<rect x="424" y="258" width="1" height="1" fill="#d81c14"/>
<rect x="409" y="259" width="2" height="1" fill="#e2e85c"/>
<rect x="419" y="259" width="1" height="1" fill="#80e6e0"/>
<rect x="424" y="259" width="1" height="1" fill="#d81c14"/>
<rect x="405" y="260" width="1" height="1" fill="#80e6e0"/>
<rect x="409" y="260" width="3" height="1" fill="#e2e85c"/>
<rect x="418" y="260" width="1" height="1" fill="#80e6e0"/>
<rect x="420" y="260" width="4" height="1" fill="#80e6e0"/>
<rect x="404" y="261" width="2" height="1" fill="#80e6e0"/>
<rect x="408" y="261" width="6" height="1" fill="#e2e85c"/>
<rect x="419" y="261" width="1" height="1" fill="#80e6e0"/>
<rect x="421" y="261" width="2" height="1" fill="#80e6e0"/>
<rect x="423" y="261" width="2" height="1" fill="#d81c14"/>
<rect x="408" y="262" width="6" height="1" fill="#e2e85c"/>
<rect x="419" y="262" width="6" height="1" fill="#d81c14"/>
<rect x="407" y="263" width="7" height="1" fill="#e2e85c"/>
<rect x="419" y="263" width="6" height="1" fill="#d81c14"/>
<rect x="407" y="264" width="6" height="1" fill="#e2e85c"/>
<rect x="418" y="264" width="1" height="1" fill="#e2e85c"/>
<rect x="419" y="264" width="6" height="1" fill="#d81c14"/>
<rect x="418" y="265" width="7" height="1" fill="#d81c14"/>
<rect x="410" y="266" width="1" height="1" fill="#d81c14"/>
<rect x="413" y="266" width="1" height="1" fill="#e2e85c"/>
<rect x="415" y="266" width="10" height="1" fill="#d81c14"/>
<rect x="413" y="267" width="12" height="1" fill="#d81c14"/>
</g>
<circle cx="414.7" cy="257.5" r="9.6" fill="none" stroke="#d0d890" stroke-width="0.5" opacity="0.4"/>
<line x1="368" y1="268.9" x2="421.6" y2="268.9" stroke="#bbb" stroke-width="1.2"/>
<line x1="394" y1="268.9" x2="421.6" y2="268.9" stroke="#555" stroke-width="1.2"/>
<text x="393.6" y="281" font-size="8.9" text-anchor="middle" fill="#c81a1a" stroke="#c81a1a">50 nm</text>
<circle cx="443" cy="210" r="3.3" fill="#9ee6c4"/><circle cx="443" cy="210" r="1.8" fill="#6ed4a0"/>
<circle cx="443" cy="237.3" r="3.3" fill="#9ee6c4"/><circle cx="443" cy="237.3" r="1.8" fill="#6ed4a0"/>
<circle cx="443" cy="264.6" r="3.3" fill="#9ee6c4"/><circle cx="443" cy="264.6" r="1.8" fill="#6ed4a0"/>
<circle cx="470.4" cy="210" r="3.3" fill="#9ee6c4"/><circle cx="470.4" cy="210" r="1.8" fill="#6ed4a0"/>
<circle cx="470.4" cy="237.3" r="3.3" fill="#9ee6c4"/><circle cx="470.4" cy="237.3" r="1.8" fill="#6ed4a0"/>
<circle cx="470.4" cy="264.6" r="3.3" fill="#9ee6c4"/><circle cx="470.4" cy="264.6" r="1.8" fill="#6ed4a0"/>
<circle cx="497.7" cy="210" r="3.3" fill="#9ee6c4"/><circle cx="497.7" cy="210" r="1.8" fill="#6ed4a0"/>
<circle cx="497.7" cy="237.3" r="3.3" fill="#9ee6c4"/><circle cx="497.7" cy="237.3" r="1.8" fill="#6ed4a0"/>
<circle cx="497.7" cy="264.6" r="3.3" fill="#9ee6c4"/><circle cx="497.7" cy="264.6" r="1.8" fill="#6ed4a0"/>
<line x1="446" y1="268.7" x2="494.6" y2="268.7" stroke="#bbb" stroke-width="1.2"/>
<line x1="470" y1="268.7" x2="494.6" y2="268.7" stroke="#555" stroke-width="1.2"/>
<text x="472.9" y="281" font-size="8.9" text-anchor="middle" fill="#c81a1a" stroke="#c81a1a">200 nm</text>
<line x1="210.52" y1="380.4" x2="210.52" y2="521" stroke="#f1f1f1" stroke-width="0.8"/>
<line x1="255.17" y1="380.4" x2="255.17" y2="521" stroke="#f1f1f1" stroke-width="0.8"/>
<line x1="299.82" y1="380.4" x2="299.82" y2="521" stroke="#f1f1f1" stroke-width="0.8"/>
<line x1="344.48" y1="380.4" x2="344.48" y2="521" stroke="#f1f1f1" stroke-width="0.8"/>
<line x1="180.8" y1="508.25" x2="373.8" y2="508.25" stroke="#f1f1f1" stroke-width="0.8"/>
<line x1="180.8" y1="485.35" x2="373.8" y2="485.35" stroke="#f1f1f1" stroke-width="0.8"/>
<line x1="180.8" y1="462.45" x2="373.8" y2="462.45" stroke="#f1f1f1" stroke-width="0.8"/>
<line x1="180.8" y1="439.55" x2="373.8" y2="439.55" stroke="#f1f1f1" stroke-width="0.8"/>
<line x1="180.8" y1="416.65" x2="373.8" y2="416.65" stroke="#f1f1f1" stroke-width="0.8"/>
<line x1="180.8" y1="393.75" x2="373.8" y2="393.75" stroke="#f1f1f1" stroke-width="0.8"/>
<line x1="188.2" y1="380.4" x2="188.2" y2="521" stroke="#c8c8c8" stroke-width="0.9"/>
<line x1="232.85" y1="380.4" x2="232.85" y2="521" stroke="#c8c8c8" stroke-width="0.9"/>
<line x1="277.5" y1="380.4" x2="277.5" y2="521" stroke="#c8c8c8" stroke-width="0.9"/>
<line x1="322.15" y1="380.4" x2="322.15" y2="521" stroke="#c8c8c8" stroke-width="0.9"/>
<line x1="366.8" y1="380.4" x2="366.8" y2="521" stroke="#c8c8c8" stroke-width="0.9"/>
<line x1="180.8" y1="496.8" x2="373.8" y2="496.8" stroke="#c8c8c8" stroke-width="0.9"/>
<line x1="180.8" y1="473.9" x2="373.8" y2="473.9" stroke="#c8c8c8" stroke-width="0.9"/>
<line x1="180.8" y1="451" x2="373.8" y2="451" stroke="#c8c8c8" stroke-width="0.9"/>
<line x1="180.8" y1="428.1" x2="373.8" y2="428.1" stroke="#c8c8c8" stroke-width="0.9"/>
<line x1="180.8" y1="405.2" x2="373.8" y2="405.2" stroke="#c8c8c8" stroke-width="0.9"/>
<line x1="188.2" y1="521" x2="188.2" y2="518" stroke="#222" stroke-width="1"/>
<line x1="188.2" y1="380.4" x2="188.2" y2="383.4" stroke="#222" stroke-width="1"/>
<line x1="210.52" y1="521" x2="210.52" y2="519.2" stroke="#222" stroke-width="1"/>
<line x1="210.52" y1="380.4" x2="210.52" y2="382.2" stroke="#222" stroke-width="1"/>
<line x1="232.85" y1="521" x2="232.85" y2="518" stroke="#222" stroke-width="1"/>
<line x1="232.85" y1="380.4" x2="232.85" y2="383.4" stroke="#222" stroke-width="1"/>
<line x1="255.17" y1="521" x2="255.17" y2="519.2" stroke="#222" stroke-width="1"/>
<line x1="255.17" y1="380.4" x2="255.17" y2="382.2" stroke="#222" stroke-width="1"/>
<line x1="277.5" y1="521" x2="277.5" y2="518" stroke="#222" stroke-width="1"/>
<line x1="277.5" y1="380.4" x2="277.5" y2="383.4" stroke="#222" stroke-width="1"/>
<line x1="299.82" y1="521" x2="299.82" y2="519.2" stroke="#222" stroke-width="1"/>
<line x1="299.82" y1="380.4" x2="299.82" y2="382.2" stroke="#222" stroke-width="1"/>
<line x1="322.15" y1="521" x2="322.15" y2="518" stroke="#222" stroke-width="1"/>
<line x1="322.15" y1="380.4" x2="322.15" y2="383.4" stroke="#222" stroke-width="1"/>
<line x1="344.48" y1="521" x2="344.48" y2="519.2" stroke="#222" stroke-width="1"/>
<line x1="344.48" y1="380.4" x2="344.48" y2="382.2" stroke="#222" stroke-width="1"/>
<line x1="366.8" y1="521" x2="366.8" y2="518" stroke="#222" stroke-width="1"/>
<line x1="366.8" y1="380.4" x2="366.8" y2="383.4" stroke="#222" stroke-width="1"/>
<line x1="180.8" y1="519.7" x2="184.3" y2="519.7" stroke="#222" stroke-width="0.9"/>
<line x1="373.8" y1="519.7" x2="370.3" y2="519.7" stroke="#222" stroke-width="0.9"/>
<line x1="180.8" y1="508.25" x2="182.6" y2="508.25" stroke="#222" stroke-width="0.9"/>
<line x1="373.8" y1="508.25" x2="372" y2="508.25" stroke="#222" stroke-width="0.9"/>
<line x1="180.8" y1="496.8" x2="184.3" y2="496.8" stroke="#222" stroke-width="0.9"/>
<line x1="373.8" y1="496.8" x2="370.3" y2="496.8" stroke="#222" stroke-width="0.9"/>
<line x1="180.8" y1="485.35" x2="182.6" y2="485.35" stroke="#222" stroke-width="0.9"/>
<line x1="373.8" y1="485.35" x2="372" y2="485.35" stroke="#222" stroke-width="0.9"/>
<line x1="180.8" y1="473.9" x2="184.3" y2="473.9" stroke="#222" stroke-width="0.9"/>
<line x1="373.8" y1="473.9" x2="370.3" y2="473.9" stroke="#222" stroke-width="0.9"/>
<line x1="180.8" y1="462.45" x2="182.6" y2="462.45" stroke="#222" stroke-width="0.9"/>
<line x1="373.8" y1="462.45" x2="372" y2="462.45" stroke="#222" stroke-width="0.9"/>
<line x1="180.8" y1="451" x2="184.3" y2="451" stroke="#222" stroke-width="0.9"/>
<line x1="373.8" y1="451" x2="370.3" y2="451" stroke="#222" stroke-width="0.9"/>
<line x1="180.8" y1="439.55" x2="182.6" y2="439.55" stroke="#222" stroke-width="0.9"/>
<line x1="373.8" y1="439.55" x2="372" y2="439.55" stroke="#222" stroke-width="0.9"/>
<line x1="180.8" y1="428.1" x2="184.3" y2="428.1" stroke="#222" stroke-width="0.9"/>
<line x1="373.8" y1="428.1" x2="370.3" y2="428.1" stroke="#222" stroke-width="0.9"/>
<line x1="180.8" y1="416.65" x2="182.6" y2="416.65" stroke="#222" stroke-width="0.9"/>
<line x1="373.8" y1="416.65" x2="372" y2="416.65" stroke="#222" stroke-width="0.9"/>
<line x1="180.8" y1="405.2" x2="184.3" y2="405.2" stroke="#222" stroke-width="0.9"/>
<line x1="373.8" y1="405.2" x2="370.3" y2="405.2" stroke="#222" stroke-width="0.9"/>
<line x1="180.8" y1="393.75" x2="182.6" y2="393.75" stroke="#222" stroke-width="0.9"/>
<line x1="373.8" y1="393.75" x2="372" y2="393.75" stroke="#222" stroke-width="0.9"/>
<line x1="180.8" y1="382.3" x2="184.3" y2="382.3" stroke="#222" stroke-width="0.9"/>
<line x1="373.8" y1="382.3" x2="370.3" y2="382.3" stroke="#222" stroke-width="0.9"/>
<rect x="180.8" y="380.4" width="193" height="140.6" fill="none" stroke="#4a4a4a" stroke-width="1.25"/>
<text x="177.5" y="522.7" font-size="8.4" text-anchor="end" fill="#111" stroke="#111">-3</text>
<text x="177.5" y="499.8" font-size="8.4" text-anchor="end" fill="#111" stroke="#111">-2</text>
<text x="177.5" y="476.9" font-size="8.4" text-anchor="end" fill="#111" stroke="#111">-1</text>
<text x="177.5" y="454" font-size="8.4" text-anchor="end" fill="#111" stroke="#111">0</text>
<text x="177.5" y="431.1" font-size="8.4" text-anchor="end" fill="#111" stroke="#111">1</text>
<text x="177.5" y="408.2" font-size="8.4" text-anchor="end" fill="#111" stroke="#111">2</text>
<text x="177.5" y="385.3" font-size="8.4" text-anchor="end" fill="#111" stroke="#111">3</text>
<text x="188.2" y="532.3" font-size="9" text-anchor="middle" fill="#111" stroke="#111">4.0</text>
<text x="232.85" y="532.3" font-size="9" text-anchor="middle" fill="#111" stroke="#111">4.5</text>
<text x="277.5" y="532.3" font-size="9" text-anchor="middle" fill="#111" stroke="#111">5.0</text>
<text x="322.15" y="532.3" font-size="9" text-anchor="middle" fill="#111" stroke="#111">5.5</text>
<text x="366.8" y="532.3" font-size="9" text-anchor="middle" fill="#111" stroke="#111">6.0</text>
<text x="0" y="0" font-size="17" fill="#111" stroke="#111" transform="translate(134.3 550.6) scale(1 1.13)">(e)</text>
<text x="164" y="550.9" font-size="12.3" fill="#111" stroke="#111" text-anchor="start" textLength="225.5" lengthAdjust="spacingAndGlyphs">The thickness of the pinned layer (nm)</text>
<text x="165.4" y="531" font-size="12.3" fill="#111" stroke="#111" textLength="143" lengthAdjust="spacingAndGlyphs" transform="rotate(-90 165.4 531)">Log(BER<tspan font-size="10" dy="0.4">P-AP</tspan><tspan dy="-0.4">/BER</tspan><tspan font-size="10" dy="0.4">AP-P</tspan><tspan dy="-0.4">)</tspan></text>
<polyline points="188.2,508 232.85,480.8 277.5,453.3 322.15,426.3 366.8,402.5" fill="none" stroke="#b8222c" stroke-width="1.1" stroke-linejoin="round"/>
<rect x="185.8" y="505.6" width="4.8" height="4.8" fill="#d01010" stroke="none" stroke-width="1"/>
<rect x="230.45" y="478.4" width="4.8" height="4.8" fill="#d01010" stroke="none" stroke-width="1"/>
<rect x="275.1" y="450.9" width="4.8" height="4.8" fill="#d01010" stroke="none" stroke-width="1"/>
<rect x="319.75" y="423.9" width="4.8" height="4.8" fill="#d01010" stroke="none" stroke-width="1"/>
<rect x="364.4" y="400.1" width="4.8" height="4.8" fill="#d01010" stroke="none" stroke-width="1"/>
</svg>
</body></html>
